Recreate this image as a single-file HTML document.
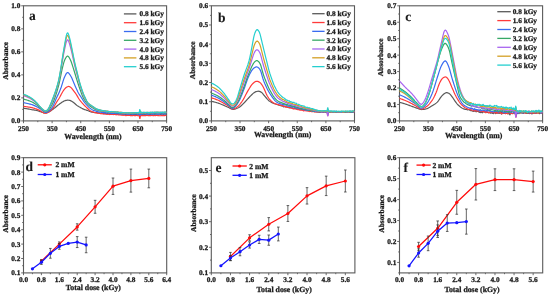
<!DOCTYPE html>
<html><head><meta charset="utf-8"><style>
html,body{margin:0;padding:0;background:#fff;}
svg{display:block;will-change:transform;filter:blur(0.3px);}
text{text-rendering:geometricPrecision;font-family:"Liberation Serif", serif;font-weight:bold;font-size:7.3px;fill:#1a1a1a;stroke:#1a1a1a;stroke-width:0.28px;}
</style></head><body>
<svg width="550" height="297" viewBox="0 0 550 297">
<rect width="550" height="297" fill="#fff"/>
<g>
<rect x="23.50" y="5.80" width="143.10" height="115.10" fill="none" stroke="#5a5a5a" stroke-width="1.1"/>
<path d="M23.50,120.90v2.3M52.12,120.90v2.3M80.74,120.90v2.3M109.36,120.90v2.3M137.98,120.90v2.3M166.60,120.90v2.3M37.81,120.90v1.3M66.43,120.90v1.3M95.05,120.90v1.3M123.67,120.90v1.3M152.29,120.90v1.3M23.50,120.90h-2.3M23.50,97.88h-2.3M23.50,74.86h-2.3M23.50,51.84h-2.3M23.50,28.82h-2.3M23.50,5.80h-2.3M23.50,109.39h-1.3M23.50,86.37h-1.3M23.50,63.35h-1.3M23.50,40.33h-1.3M23.50,17.31h-1.3" stroke="#5a5a5a" stroke-width="0.9" fill="none"/>
<text transform="translate(23.50,130.50)" text-anchor="middle">250</text>
<text transform="translate(52.12,130.50)" text-anchor="middle">350</text>
<text transform="translate(80.74,130.50)" text-anchor="middle">450</text>
<text transform="translate(109.36,130.50)" text-anchor="middle">550</text>
<text transform="translate(137.98,130.50)" text-anchor="middle">650</text>
<text transform="translate(166.60,130.50)" text-anchor="middle">750</text>
<text x="20.30" y="123.30" text-anchor="end">0.0</text>
<text x="20.30" y="100.28" text-anchor="end">0.2</text>
<text x="20.30" y="77.26" text-anchor="end">0.4</text>
<text x="20.30" y="54.24" text-anchor="end">0.6</text>
<text x="20.30" y="31.22" text-anchor="end">0.8</text>
<text x="20.30" y="8.20" text-anchor="end">1.0</text>
<text x="64.30" y="138.80" style="font-size:7.8px">Wavelength (nm)</text>
<text transform="translate(8.30,60.80) rotate(-90)" text-anchor="middle" style="font-size:7.4px">Absorbance</text>
<text x="29.00" y="19.70" style="font-size:13.5px;stroke-width:0.1px">a</text>
<rect x="211.40" y="5.80" width="143.10" height="115.10" fill="none" stroke="#5a5a5a" stroke-width="1.1"/>
<path d="M211.40,120.90v2.3M240.02,120.90v2.3M268.64,120.90v2.3M297.26,120.90v2.3M325.88,120.90v2.3M354.50,120.90v2.3M225.71,120.90v1.3M254.33,120.90v1.3M282.95,120.90v1.3M311.57,120.90v1.3M340.19,120.90v1.3M211.40,120.90h-2.3M211.40,101.72h-2.3M211.40,82.53h-2.3M211.40,63.35h-2.3M211.40,44.17h-2.3M211.40,24.98h-2.3M211.40,5.80h-2.3M211.40,111.31h-1.3M211.40,92.12h-1.3M211.40,72.94h-1.3M211.40,53.76h-1.3M211.40,34.58h-1.3M211.40,15.39h-1.3" stroke="#5a5a5a" stroke-width="0.9" fill="none"/>
<text transform="translate(211.40,130.50)" text-anchor="middle">250</text>
<text transform="translate(240.02,130.50)" text-anchor="middle">350</text>
<text transform="translate(268.64,130.50)" text-anchor="middle">450</text>
<text transform="translate(297.26,130.50)" text-anchor="middle">550</text>
<text transform="translate(325.88,130.50)" text-anchor="middle">650</text>
<text transform="translate(354.50,130.50)" text-anchor="middle">750</text>
<text x="208.20" y="123.30" text-anchor="end">0.0</text>
<text x="208.20" y="104.12" text-anchor="end">0.1</text>
<text x="208.20" y="84.93" text-anchor="end">0.2</text>
<text x="208.20" y="65.75" text-anchor="end">0.3</text>
<text x="208.20" y="46.57" text-anchor="end">0.4</text>
<text x="208.20" y="27.38" text-anchor="end">0.5</text>
<text x="208.20" y="8.20" text-anchor="end">0.6</text>
<text x="254.00" y="137.10" style="font-size:7.8px">Wavelength (nm)</text>
<text transform="translate(195.20,60.30) rotate(-90)" text-anchor="middle" style="font-size:7.4px">Absorbance</text>
<text x="218.00" y="21.50" style="font-size:13.5px;stroke-width:0.1px">b</text>
<rect x="399.50" y="5.80" width="143.10" height="115.10" fill="none" stroke="#5a5a5a" stroke-width="1.1"/>
<path d="M399.50,120.90v2.3M428.12,120.90v2.3M456.74,120.90v2.3M485.36,120.90v2.3M513.98,120.90v2.3M542.60,120.90v2.3M413.81,120.90v1.3M442.43,120.90v1.3M471.05,120.90v1.3M499.67,120.90v1.3M528.29,120.90v1.3M399.50,120.90h-2.3M399.50,104.46h-2.3M399.50,88.01h-2.3M399.50,71.57h-2.3M399.50,55.13h-2.3M399.50,38.69h-2.3M399.50,22.24h-2.3M399.50,5.80h-2.3M399.50,112.68h-1.3M399.50,96.24h-1.3M399.50,79.79h-1.3M399.50,63.35h-1.3M399.50,46.91h-1.3M399.50,30.46h-1.3M399.50,14.02h-1.3" stroke="#5a5a5a" stroke-width="0.9" fill="none"/>
<text transform="translate(399.50,130.50)" text-anchor="middle">250</text>
<text transform="translate(428.12,130.50)" text-anchor="middle">350</text>
<text transform="translate(456.74,130.50)" text-anchor="middle">450</text>
<text transform="translate(485.36,130.50)" text-anchor="middle">550</text>
<text transform="translate(513.98,130.50)" text-anchor="middle">650</text>
<text transform="translate(542.60,130.50)" text-anchor="middle">750</text>
<text x="396.30" y="123.30" text-anchor="end">0.0</text>
<text x="396.30" y="106.86" text-anchor="end">0.1</text>
<text x="396.30" y="90.41" text-anchor="end">0.2</text>
<text x="396.30" y="73.97" text-anchor="end">0.3</text>
<text x="396.30" y="57.53" text-anchor="end">0.4</text>
<text x="396.30" y="41.09" text-anchor="end">0.5</text>
<text x="396.30" y="24.64" text-anchor="end">0.6</text>
<text x="396.30" y="8.20" text-anchor="end">0.7</text>
<text x="445.00" y="138.10" style="font-size:7.8px">Wavelength (nm)</text>
<text transform="translate(383.40,57.40) rotate(-90)" text-anchor="middle" style="font-size:7.4px">Absorbance</text>
<text x="405.30" y="20.90" style="font-size:13.5px;stroke-width:0.1px">c</text>
<rect x="23.50" y="157.70" width="143.20" height="115.20" fill="none" stroke="#5a5a5a" stroke-width="1.1"/>
<path d="M23.50,272.90v2.3M41.40,272.90v2.3M59.30,272.90v2.3M77.20,272.90v2.3M95.10,272.90v2.3M113.00,272.90v2.3M130.90,272.90v2.3M148.80,272.90v2.3M166.70,272.90v2.3M32.45,272.90v1.3M50.35,272.90v1.3M68.25,272.90v1.3M86.15,272.90v1.3M104.05,272.90v1.3M121.95,272.90v1.3M139.85,272.90v1.3M157.75,272.90v1.3M23.50,272.90h-2.3M23.50,258.50h-2.3M23.50,244.10h-2.3M23.50,229.70h-2.3M23.50,215.30h-2.3M23.50,200.90h-2.3M23.50,186.50h-2.3M23.50,172.10h-2.3M23.50,157.70h-2.3M23.50,265.70h-1.3M23.50,251.30h-1.3M23.50,236.90h-1.3M23.50,222.50h-1.3M23.50,208.10h-1.3M23.50,193.70h-1.3M23.50,179.30h-1.3M23.50,164.90h-1.3" stroke="#5a5a5a" stroke-width="0.9" fill="none"/>
<text transform="translate(23.50,282.10)" text-anchor="middle">0.0</text>
<text transform="translate(41.40,282.10)" text-anchor="middle">0.8</text>
<text transform="translate(59.30,282.10)" text-anchor="middle">1.6</text>
<text transform="translate(77.20,282.10)" text-anchor="middle">2.4</text>
<text transform="translate(95.10,282.10)" text-anchor="middle">3.2</text>
<text transform="translate(113.00,282.10)" text-anchor="middle">4.0</text>
<text transform="translate(130.90,282.10)" text-anchor="middle">4.8</text>
<text transform="translate(148.80,282.10)" text-anchor="middle">5.6</text>
<text transform="translate(166.70,282.10)" text-anchor="middle">6.4</text>
<text x="20.30" y="275.30" text-anchor="end">0.1</text>
<text x="20.30" y="260.90" text-anchor="end">0.2</text>
<text x="20.30" y="246.50" text-anchor="end">0.3</text>
<text x="20.30" y="232.10" text-anchor="end">0.4</text>
<text x="20.30" y="217.70" text-anchor="end">0.5</text>
<text x="20.30" y="203.30" text-anchor="end">0.6</text>
<text x="20.30" y="188.90" text-anchor="end">0.7</text>
<text x="20.30" y="174.50" text-anchor="end">0.8</text>
<text x="20.30" y="160.10" text-anchor="end">0.9</text>
<text x="65.80" y="290.40" style="font-size:7.8px">Total dose (kGy)</text>
<text transform="translate(8.10,213.80) rotate(-90)" text-anchor="middle" style="font-size:7.4px">Absorbance</text>
<text x="25.50" y="171.40" style="font-size:13.5px;stroke-width:0.1px">d</text>
<rect x="211.30" y="157.70" width="143.60" height="115.20" fill="none" stroke="#5a5a5a" stroke-width="1.1"/>
<path d="M211.30,272.90v2.3M230.45,272.90v2.3M249.59,272.90v2.3M268.74,272.90v2.3M287.89,272.90v2.3M307.03,272.90v2.3M326.18,272.90v2.3M345.33,272.90v2.3M220.87,272.90v1.3M240.02,272.90v1.3M259.17,272.90v1.3M278.31,272.90v1.3M297.46,272.90v1.3M316.61,272.90v1.3M335.75,272.90v1.3M211.30,272.90h-2.3M211.30,247.30h-2.3M211.30,221.70h-2.3M211.30,196.10h-2.3M211.30,170.50h-2.3M211.30,260.10h-1.3M211.30,234.50h-1.3M211.30,208.90h-1.3M211.30,183.30h-1.3" stroke="#5a5a5a" stroke-width="0.9" fill="none"/>
<text transform="translate(211.30,282.10)" text-anchor="middle">0.0</text>
<text transform="translate(230.45,282.10)" text-anchor="middle">0.8</text>
<text transform="translate(249.59,282.10)" text-anchor="middle">1.6</text>
<text transform="translate(268.74,282.10)" text-anchor="middle">2.4</text>
<text transform="translate(287.89,282.10)" text-anchor="middle">3.2</text>
<text transform="translate(307.03,282.10)" text-anchor="middle">4.0</text>
<text transform="translate(326.18,282.10)" text-anchor="middle">4.8</text>
<text transform="translate(345.33,282.10)" text-anchor="middle">5.6</text>
<text x="208.10" y="275.30" text-anchor="end">0.1</text>
<text x="208.10" y="249.70" text-anchor="end">0.2</text>
<text x="208.10" y="224.10" text-anchor="end">0.3</text>
<text x="208.10" y="198.50" text-anchor="end">0.4</text>
<text x="208.10" y="172.90" text-anchor="end">0.5</text>
<text x="256.60" y="292.30" style="font-size:7.8px">Total dose (kGy)</text>
<text transform="translate(195.70,213.00) rotate(-90)" text-anchor="middle" style="font-size:7.4px">Absorbance</text>
<text x="215.50" y="171.60" style="font-size:13.5px;stroke-width:0.1px">e</text>
<rect x="399.50" y="157.70" width="143.20" height="115.20" fill="none" stroke="#5a5a5a" stroke-width="1.1"/>
<path d="M399.50,272.90v2.3M418.59,272.90v2.3M437.69,272.90v2.3M456.78,272.90v2.3M475.87,272.90v2.3M494.97,272.90v2.3M514.06,272.90v2.3M533.15,272.90v2.3M409.05,272.90v1.3M428.14,272.90v1.3M447.23,272.90v1.3M466.33,272.90v1.3M485.42,272.90v1.3M504.51,272.90v1.3M523.61,272.90v1.3M399.50,262.43h-2.3M399.50,241.48h-2.3M399.50,220.54h-2.3M399.50,199.59h-2.3M399.50,178.65h-2.3M399.50,157.70h-2.3M399.50,272.90h-1.3M399.50,251.95h-1.3M399.50,231.01h-1.3M399.50,210.06h-1.3M399.50,189.12h-1.3M399.50,168.17h-1.3" stroke="#5a5a5a" stroke-width="0.9" fill="none"/>
<text transform="translate(399.50,282.10)" text-anchor="middle">0.0</text>
<text transform="translate(418.59,282.10)" text-anchor="middle">0.8</text>
<text transform="translate(437.69,282.10)" text-anchor="middle">1.6</text>
<text transform="translate(456.78,282.10)" text-anchor="middle">2.4</text>
<text transform="translate(475.87,282.10)" text-anchor="middle">3.2</text>
<text transform="translate(494.97,282.10)" text-anchor="middle">4.0</text>
<text transform="translate(514.06,282.10)" text-anchor="middle">4.8</text>
<text transform="translate(533.15,282.10)" text-anchor="middle">5.6</text>
<text x="396.30" y="264.83" text-anchor="end">0.1</text>
<text x="396.30" y="243.88" text-anchor="end">0.2</text>
<text x="396.30" y="222.94" text-anchor="end">0.3</text>
<text x="396.30" y="201.99" text-anchor="end">0.4</text>
<text x="396.30" y="181.05" text-anchor="end">0.5</text>
<text x="396.30" y="160.10" text-anchor="end">0.6</text>
<text x="444.40" y="291.70" style="font-size:7.8px">Total dose (kGy)</text>
<text transform="translate(383.70,213.80) rotate(-90)" text-anchor="middle" style="font-size:7.4px">Absorbance</text>
<text x="403.50" y="171.50" style="font-size:13.5px;stroke-width:0.1px">f</text>
</g>
<path d="M23.50,108.27 24.07,108.32 24.64,108.39 25.22,108.47 25.79,108.56 26.36,108.65 26.93,108.74 27.51,108.83 28.08,108.93 28.65,109.04 29.22,109.15 29.80,109.27 30.37,109.40 30.94,109.51 31.51,109.63 32.09,109.73 32.66,109.82 33.23,109.90 33.80,109.97 34.38,110.05 34.95,110.13 35.52,110.22 36.09,110.32 36.67,110.45 37.24,110.60 37.81,110.78 38.38,110.97 38.95,111.17 39.53,111.37 40.10,111.58 40.67,111.78 41.24,111.97 41.82,112.16 42.39,112.34 42.96,112.54 43.53,112.72 44.11,112.88 44.68,112.99 45.25,113.03 45.82,112.99 46.40,112.87 46.97,112.70 47.54,112.48 48.11,112.22 48.69,111.96 49.26,111.68 49.83,111.39 50.40,111.06 50.98,110.69 51.55,110.29 52.12,109.87 52.69,109.44 53.26,109.00 53.84,108.56 54.41,108.12 54.98,107.68 55.55,107.22 56.13,106.75 56.70,106.28 57.27,105.80 57.84,105.33 58.42,104.87 58.99,104.43 59.56,104.00 60.13,103.58 60.71,103.16 61.28,102.75 61.85,102.36 62.42,101.99 63.00,101.65 63.57,101.34 64.14,101.06 64.71,100.80 65.29,100.59 65.86,100.44 66.43,100.34 67.00,100.26 67.57,100.22 68.15,100.21 68.72,100.24 69.29,100.32 69.86,100.44 70.44,100.61 71.01,100.86 71.58,101.16 72.15,101.51 72.73,101.89 73.30,102.29 73.87,102.73 74.44,103.20 75.02,103.72 75.59,104.25 76.16,104.76 76.73,105.22 77.31,105.63 77.88,106.01 78.45,106.36 79.02,106.70 79.60,107.02 80.17,107.35 80.74,107.66 81.31,107.98 81.88,108.30 82.46,108.60 83.03,108.89 83.60,109.14 84.17,109.38 84.75,109.58 85.32,109.78 85.89,109.97 86.46,110.15 87.04,110.34 87.61,110.53 88.18,110.78 88.75,111.05 89.33,111.32 89.90,111.52 90.47,111.78 91.04,111.98 91.62,112.03 92.19,112.15 92.76,112.22 93.33,112.43 93.91,112.44 94.48,112.53 95.05,112.75 95.62,112.61 96.19,112.70 96.77,112.51 97.34,112.85 97.91,112.97 98.48,112.85 99.06,113.06 99.63,113.03 100.20,113.27 100.77,113.25 101.35,113.20 101.92,113.30 102.49,113.43 103.06,113.64 103.64,113.47 104.21,113.56 104.78,113.50 105.35,113.60 105.93,113.52 106.50,113.70 107.07,113.70 107.64,113.66 108.22,113.93 108.79,113.86 109.36,113.90 109.93,113.58 110.50,113.89 111.08,113.80 111.65,113.83 112.22,113.97 112.79,114.16 113.37,113.83 113.94,114.04 114.51,113.89 115.08,114.19 115.66,114.08 116.23,113.86 116.80,113.85 117.37,114.24 117.95,114.25 118.52,114.09 119.09,113.99 119.66,114.08 120.24,114.07 120.81,114.26 121.38,114.06 121.95,113.99 122.53,114.22 123.10,114.36 123.67,114.28 124.24,114.08 124.81,114.43 125.39,114.21 125.96,114.34 126.53,114.23 127.10,114.25 127.68,114.21 128.25,114.01 128.82,114.16 129.39,114.04 129.97,114.24 130.54,114.29 131.11,114.17 131.68,114.62 132.26,114.23 132.83,114.20 133.40,114.39 133.97,114.16 134.55,114.30 135.12,114.56 135.69,114.25 136.26,114.36 136.84,114.30 137.41,114.25 137.69,114.05 137.98,114.21 138.27,114.23 138.55,114.17 138.84,114.48 139.12,114.09 139.41,114.74 139.70,115.35 139.98,115.57 140.27,114.72 140.56,114.31 140.84,113.96 141.13,114.13 141.41,114.31 141.70,114.26 141.99,114.38 142.27,114.23 142.85,114.30 143.42,114.12 143.99,114.41 144.56,114.27 145.13,114.34 145.71,114.32 146.28,114.13 146.85,114.21 147.42,114.14 148.00,114.06 148.57,114.07 149.14,114.41 149.71,114.15 150.29,114.47 150.86,114.23 151.43,113.96 152.00,114.25 152.58,114.28 153.15,114.20 153.72,114.22 154.29,114.22 154.87,114.33 155.44,114.07 156.01,114.10 156.58,114.25 157.16,114.18 157.73,114.13 158.30,114.08 158.87,114.17 159.44,114.13 160.02,114.26 160.59,114.37 161.16,114.29 161.73,114.08 162.31,114.09 162.88,114.20 163.45,114.30 164.02,114.18 164.60,113.99 165.17,114.04 165.74,114.32 166.31,114.23" stroke="#5a5a5a" stroke-width="1.2" fill="none" stroke-linejoin="round"/>
<path d="M23.50,106.42 24.07,106.46 24.64,106.52 25.22,106.59 25.79,106.66 26.36,106.74 26.93,106.81 27.51,106.89 28.08,106.97 28.65,107.06 29.22,107.14 29.80,107.24 30.37,107.33 30.94,107.43 31.51,107.55 32.09,107.67 32.66,107.81 33.23,107.97 33.80,108.14 34.38,108.33 34.95,108.52 35.52,108.72 36.09,108.93 36.67,109.15 37.24,109.37 37.81,109.60 38.38,109.84 38.95,110.10 39.53,110.38 40.10,110.68 40.67,111.03 41.24,111.42 41.82,111.83 42.39,112.21 42.96,112.56 43.53,112.84 44.11,113.07 44.68,113.21 45.25,113.25 45.82,113.19 46.40,113.07 46.97,112.90 47.54,112.70 48.11,112.45 48.69,112.13 49.26,111.73 49.83,111.27 50.40,110.78 50.98,110.27 51.55,109.71 52.12,109.11 52.69,108.44 53.26,107.70 53.84,106.87 54.41,105.96 54.98,104.99 55.55,104.00 56.13,103.01 56.70,102.05 57.27,101.14 57.84,100.28 58.42,99.43 58.99,98.52 59.56,97.54 60.13,96.49 60.71,95.40 61.28,94.30 61.85,93.23 62.42,92.21 63.00,91.28 63.57,90.43 64.14,89.66 64.71,88.95 65.29,88.31 65.86,87.77 66.43,87.33 67.00,86.99 67.57,86.71 68.15,86.52 68.72,86.46 69.29,86.55 69.86,86.79 70.44,87.14 71.01,87.58 71.58,88.12 72.15,88.79 72.73,89.55 73.30,90.34 73.87,91.12 74.44,91.88 75.02,92.66 75.59,93.45 76.16,94.28 76.73,95.16 77.31,96.10 77.88,97.10 78.45,98.07 79.02,98.98 79.60,99.81 80.17,100.57 80.74,101.30 81.31,101.99 81.88,102.66 82.46,103.30 83.03,103.93 83.60,104.55 84.17,105.16 84.75,105.75 85.32,106.32 85.89,106.88 86.46,107.42 87.04,107.96 87.61,108.49 88.18,108.99 88.75,109.51 89.33,109.98 89.90,110.42 90.47,110.83 91.04,111.13 91.62,111.51 92.19,111.79 92.76,111.89 93.33,111.91 93.91,112.28 94.48,112.60 95.05,112.61 95.62,112.62 96.19,113.02 96.77,112.92 97.34,113.20 97.91,113.04 98.48,113.19 99.06,113.34 99.63,113.18 100.20,113.59 100.77,113.69 101.35,113.40 101.92,113.84 102.49,113.47 103.06,113.83 103.64,114.02 104.21,113.93 104.78,113.95 105.35,113.99 105.93,114.08 106.50,113.95 107.07,114.45 107.64,114.25 108.22,114.24 108.79,113.99 109.36,114.55 109.93,114.35 110.50,114.50 111.08,114.46 111.65,114.31 112.22,114.38 112.79,114.27 113.37,114.58 113.94,114.50 114.51,114.41 115.08,114.48 115.66,114.69 116.23,114.53 116.80,114.85 117.37,114.51 117.95,114.78 118.52,114.86 119.09,114.85 119.66,114.81 120.24,114.73 120.81,115.03 121.38,115.10 121.95,115.01 122.53,115.25 123.10,115.40 123.67,115.09 124.24,115.29 124.81,115.12 125.39,115.45 125.96,115.74 126.53,115.33 127.10,115.37 127.68,115.20 128.25,115.37 128.82,115.42 129.39,115.39 129.97,115.54 130.54,115.49 131.11,115.70 131.68,115.45 132.26,115.65 132.83,115.61 133.40,115.46 133.97,115.44 134.55,115.71 135.12,115.30 135.69,115.67 136.26,115.48 136.84,115.47 137.41,115.57 137.69,115.58 137.98,115.36 138.27,115.48 138.55,115.54 138.84,115.86 139.12,115.79 139.41,116.30 139.70,118.36 139.98,118.52 140.27,116.55 140.56,115.73 140.84,115.51 141.13,115.55 141.41,115.47 141.70,115.72 141.99,115.47 142.27,115.67 142.85,115.65 143.42,115.37 143.99,115.60 144.56,115.62 145.13,115.63 145.71,115.66 146.28,115.39 146.85,115.42 147.42,115.51 148.00,115.58 148.57,115.46 149.14,115.62 149.71,115.54 150.29,115.55 150.86,115.59 151.43,115.38 152.00,115.36 152.58,115.42 153.15,115.87 153.72,115.35 154.29,115.51 154.87,115.67 155.44,115.61 156.01,115.45 156.58,115.44 157.16,115.49 157.73,115.59 158.30,115.60 158.87,115.49 159.44,115.62 160.02,115.73 160.59,115.69 161.16,115.62 161.73,115.56 162.31,115.29 162.88,115.79 163.45,115.54 164.02,115.62 164.60,115.56 165.17,115.42 165.74,115.43 166.31,115.63" stroke="#ff3a3a" stroke-width="1.2" fill="none" stroke-linejoin="round"/>
<path d="M23.50,102.65 24.07,102.73 24.64,102.85 25.22,102.97 25.79,103.10 26.36,103.23 26.93,103.36 27.51,103.50 28.08,103.63 28.65,103.77 29.22,103.91 29.80,104.04 30.37,104.19 30.94,104.34 31.51,104.50 32.09,104.68 32.66,104.88 33.23,105.10 33.80,105.33 34.38,105.58 34.95,105.85 35.52,106.12 36.09,106.40 36.67,106.69 37.24,107.00 37.81,107.31 38.38,107.64 38.95,107.98 39.53,108.34 40.10,108.71 40.67,109.11 41.24,109.54 41.82,109.99 42.39,110.44 42.96,110.88 43.53,111.30 44.11,111.69 44.68,112.06 45.25,112.36 45.82,112.50 46.40,112.46 46.97,112.27 47.54,111.98 48.11,111.61 48.69,111.19 49.26,110.74 49.83,110.24 50.40,109.65 50.98,108.97 51.55,108.21 52.12,107.37 52.69,106.44 53.26,105.39 53.84,104.19 54.41,102.87 54.98,101.49 55.55,100.13 56.13,98.81 56.70,97.55 57.27,96.33 57.84,95.12 58.42,93.91 58.99,92.67 59.56,91.39 60.13,90.04 60.71,88.58 61.28,86.97 61.85,85.18 62.42,83.30 63.00,81.41 63.57,79.63 64.14,78.04 64.71,76.66 65.29,75.45 65.86,74.36 66.43,73.44 67.00,72.80 67.57,72.54 68.15,72.68 68.72,73.14 69.29,73.81 69.86,74.61 70.44,75.48 71.01,76.45 71.58,77.56 72.15,78.80 72.73,80.15 73.30,81.55 73.87,82.96 74.44,84.33 75.02,85.66 75.59,86.96 76.16,88.24 76.73,89.51 77.31,90.75 77.88,91.91 78.45,93.00 79.02,93.99 79.60,94.91 80.17,95.79 80.74,96.63 81.31,97.48 81.88,98.34 82.46,99.24 83.03,100.17 83.60,101.05 84.17,101.87 84.75,102.64 85.32,103.36 85.89,104.04 86.46,104.70 87.04,105.33 87.61,105.95 88.18,106.53 88.75,107.07 89.33,107.67 89.90,108.15 90.47,108.60 91.04,108.99 91.62,109.28 92.19,109.66 92.76,110.00 93.33,110.29 93.91,110.35 94.48,110.69 95.05,110.90 95.62,110.96 96.19,111.32 96.77,111.16 97.34,111.44 97.91,111.73 98.48,111.87 99.06,111.76 99.63,112.18 100.20,112.21 100.77,112.22 101.35,112.28 101.92,112.39 102.49,112.42 103.06,112.60 103.64,112.63 104.21,112.50 104.78,112.64 105.35,112.85 105.93,112.60 106.50,113.16 107.07,112.93 107.64,112.89 108.22,112.89 108.79,113.06 109.36,113.17 109.93,113.07 110.50,113.22 111.08,113.16 111.65,113.66 112.22,113.24 112.79,113.44 113.37,113.23 113.94,113.29 114.51,113.32 115.08,113.50 115.66,113.42 116.23,113.55 116.80,113.51 117.37,113.59 117.95,113.72 118.52,113.35 119.09,113.55 119.66,113.97 120.24,113.59 120.81,113.93 121.38,113.80 121.95,113.87 122.53,113.89 123.10,113.81 123.67,113.91 124.24,114.08 124.81,113.90 125.39,113.87 125.96,113.69 126.53,114.01 127.10,114.13 127.68,114.03 128.25,113.89 128.82,114.11 129.39,114.09 129.97,113.92 130.54,114.00 131.11,113.96 131.68,114.08 132.26,114.11 132.83,114.04 133.40,114.02 133.97,114.04 134.55,113.93 135.12,113.92 135.69,113.92 136.26,113.93 136.84,114.12 137.41,114.15 137.69,113.88 137.98,113.99 138.27,113.98 138.55,114.15 138.84,114.02 139.12,114.11 139.41,114.42 139.70,115.07 139.98,115.19 140.27,114.29 140.56,113.86 140.84,114.09 141.13,113.98 141.41,114.14 141.70,113.90 141.99,113.74 142.27,114.16 142.85,114.03 143.42,113.80 143.99,113.94 144.56,113.98 145.13,114.28 145.71,114.01 146.28,113.87 146.85,113.80 147.42,113.91 148.00,114.07 148.57,114.09 149.14,114.25 149.71,114.14 150.29,113.84 150.86,114.01 151.43,114.18 152.00,113.81 152.58,114.22 153.15,113.82 153.72,114.03 154.29,113.94 154.87,113.89 155.44,113.94 156.01,113.80 156.58,113.96 157.16,114.00 157.73,114.04 158.30,114.14 158.87,114.03 159.44,113.79 160.02,113.80 160.59,113.71 161.16,113.51 161.73,113.78 162.31,113.80 162.88,114.03 163.45,113.87 164.02,113.52 164.60,113.74 165.17,113.82 165.74,113.74 166.31,114.04" stroke="#3a6cf0" stroke-width="1.2" fill="none" stroke-linejoin="round"/>
<path d="M23.50,99.20 24.07,99.29 24.64,99.41 25.22,99.56 25.79,99.71 26.36,99.88 26.93,100.05 27.51,100.23 28.08,100.42 28.65,100.61 29.22,100.82 29.80,101.03 30.37,101.26 30.94,101.51 31.51,101.76 32.09,102.03 32.66,102.32 33.23,102.63 33.80,102.96 34.38,103.31 34.95,103.67 35.52,104.05 36.09,104.45 36.67,104.88 37.24,105.32 37.81,105.80 38.38,106.29 38.95,106.78 39.53,107.28 40.10,107.78 40.67,108.29 41.24,108.81 41.82,109.33 42.39,109.84 42.96,110.32 43.53,110.77 44.11,111.19 44.68,111.53 45.25,111.69 45.82,111.68 46.40,111.52 46.97,111.27 47.54,110.94 48.11,110.50 48.69,109.92 49.26,109.20 49.83,108.39 50.40,107.51 50.98,106.58 51.55,105.57 52.12,104.45 52.69,103.25 53.26,101.96 53.84,100.59 54.41,99.12 54.98,97.55 55.55,95.89 56.13,94.14 56.70,92.31 57.27,90.40 57.84,88.39 58.42,86.26 58.99,83.99 59.56,81.53 60.13,78.84 60.71,76.00 61.28,73.16 61.85,70.47 62.42,67.96 63.00,65.62 63.57,63.45 64.14,61.57 64.71,60.04 65.29,58.79 65.86,57.73 66.43,56.87 67.00,56.30 67.57,56.10 68.15,56.31 68.72,56.91 69.29,57.78 69.86,58.82 70.44,59.97 71.01,61.29 71.58,62.82 72.15,64.53 72.73,66.34 73.30,68.18 73.87,70.03 74.44,71.89 75.02,73.79 75.59,75.70 76.16,77.59 76.73,79.44 77.31,81.26 77.88,83.04 78.45,84.80 79.02,86.52 79.60,88.19 80.17,89.81 80.74,91.41 81.31,92.98 81.88,94.51 82.46,95.94 83.03,97.24 83.60,98.38 84.17,99.38 84.75,100.28 85.32,101.10 85.89,101.86 86.46,102.57 87.04,103.23 87.61,103.87 88.18,104.48 88.75,104.97 89.33,105.47 89.90,105.99 90.47,106.42 91.04,106.90 91.62,107.21 92.19,107.56 92.76,107.87 93.33,108.21 93.91,108.63 94.48,109.00 95.05,109.37 95.62,109.61 96.19,109.70 96.77,109.91 97.34,110.15 97.91,110.08 98.48,110.36 99.06,110.57 99.63,110.72 100.20,110.80 100.77,111.05 101.35,111.15 101.92,111.05 102.49,111.27 103.06,111.31 103.64,111.18 104.21,111.45 104.78,111.31 105.35,111.56 105.93,111.42 106.50,111.62 107.07,111.99 107.64,111.64 108.22,111.90 108.79,112.19 109.36,111.96 109.93,112.01 110.50,112.25 111.08,112.21 111.65,112.10 112.22,112.02 112.79,112.10 113.37,112.13 113.94,112.19 114.51,112.73 115.08,112.52 115.66,112.44 116.23,112.87 116.80,112.44 117.37,112.46 117.95,112.73 118.52,112.72 119.09,112.84 119.66,112.75 120.24,112.79 120.81,112.83 121.38,113.00 121.95,112.85 122.53,112.98 123.10,112.84 123.67,112.96 124.24,113.23 124.81,113.26 125.39,113.07 125.96,113.17 126.53,113.06 127.10,113.03 127.68,113.16 128.25,113.40 128.82,113.34 129.39,113.11 129.97,113.33 130.54,113.03 131.11,113.20 131.68,113.11 132.26,113.30 132.83,113.18 133.40,113.57 133.97,113.18 134.55,113.06 135.12,113.26 135.69,113.24 136.26,113.12 136.84,113.09 137.41,113.20 137.69,112.99 137.98,113.31 138.27,112.92 138.55,113.27 138.84,113.18 139.12,112.83 139.41,112.65 139.70,111.50 139.98,111.25 140.27,112.63 140.56,113.15 140.84,113.13 141.13,113.14 141.41,113.16 141.70,113.17 141.99,112.80 142.27,113.11 142.85,112.87 143.42,113.19 143.99,112.91 144.56,113.15 145.13,113.03 145.71,112.87 146.28,113.02 146.85,113.21 147.42,113.00 148.00,112.94 148.57,112.83 149.14,113.03 149.71,112.93 150.29,112.87 150.86,113.09 151.43,112.87 152.00,112.96 152.58,112.78 153.15,112.84 153.72,112.84 154.29,113.14 154.87,112.82 155.44,112.84 156.01,112.91 156.58,112.84 157.16,112.94 157.73,112.73 158.30,112.65 158.87,112.65 159.44,112.80 160.02,112.49 160.59,112.59 161.16,112.83 161.73,112.71 162.31,112.91 162.88,112.69 163.45,112.56 164.02,112.48 164.60,112.70 165.17,112.88 165.74,112.65 166.31,112.43" stroke="#35a865" stroke-width="1.2" fill="none" stroke-linejoin="round"/>
<path d="M23.50,95.83 24.07,95.94 24.64,96.11 25.22,96.30 25.79,96.51 26.36,96.72 26.93,96.95 27.51,97.19 28.08,97.44 28.65,97.70 29.22,97.98 29.80,98.27 30.37,98.58 30.94,98.91 31.51,99.25 32.09,99.62 32.66,100.01 33.23,100.42 33.80,100.87 34.38,101.33 34.95,101.82 35.52,102.32 36.09,102.84 36.67,103.40 37.24,103.98 37.81,104.60 38.38,105.22 38.95,105.85 39.53,106.46 40.10,107.05 40.67,107.62 41.24,108.19 41.82,108.74 42.39,109.27 42.96,109.75 43.53,110.19 44.11,110.60 44.68,110.91 45.25,111.06 45.82,111.03 46.40,110.86 46.97,110.58 47.54,110.15 48.11,109.51 48.69,108.67 49.26,107.69 49.83,106.61 50.40,105.43 50.98,104.16 51.55,102.83 52.12,101.47 52.69,100.09 53.26,98.67 53.84,97.21 54.41,95.69 54.98,94.10 55.55,92.43 56.13,90.68 56.70,88.86 57.27,86.94 57.84,84.88 58.42,82.65 58.99,80.17 59.56,77.40 60.13,74.35 60.71,71.09 61.28,67.68 61.85,64.21 62.42,60.80 63.00,57.53 63.57,54.45 64.14,51.59 64.71,48.85 65.29,46.16 65.86,43.69 66.43,41.68 67.00,40.30 67.57,39.78 68.15,40.24 68.72,41.47 69.29,43.11 69.86,44.96 70.44,47.00 71.01,49.23 71.58,51.65 72.15,54.19 72.73,56.75 73.30,59.31 73.87,61.88 74.44,64.43 75.02,66.85 75.59,69.09 76.16,71.22 76.73,73.37 77.31,75.56 77.88,77.75 78.45,79.89 79.02,81.94 79.60,83.89 80.17,85.78 80.74,87.59 81.31,89.35 81.88,91.02 82.46,92.59 83.03,94.06 83.60,95.42 84.17,96.69 84.75,97.88 85.32,99.01 85.89,100.08 86.46,101.11 87.04,102.03 87.61,102.80 88.18,103.44 88.75,103.96 89.33,104.46 89.90,104.94 90.47,105.31 91.04,105.59 91.62,106.17 92.19,106.67 92.76,106.78 93.33,107.30 93.91,107.77 94.48,108.13 95.05,108.57 95.62,108.64 96.19,108.97 96.77,109.31 97.34,109.50 97.91,109.69 98.48,109.66 99.06,110.00 99.63,109.94 100.20,110.39 100.77,110.49 101.35,110.60 101.92,110.72 102.49,110.77 103.06,110.71 103.64,110.77 104.21,111.17 104.78,110.93 105.35,111.17 105.93,111.03 106.50,111.35 107.07,111.51 107.64,111.34 108.22,111.43 108.79,111.64 109.36,111.63 109.93,111.67 110.50,111.69 111.08,112.02 111.65,112.00 112.22,111.87 112.79,111.89 113.37,112.05 113.94,112.26 114.51,111.87 115.08,112.15 115.66,112.29 116.23,111.97 116.80,112.08 117.37,112.14 117.95,112.21 118.52,112.29 119.09,112.55 119.66,112.46 120.24,112.46 120.81,112.46 121.38,112.52 121.95,112.77 122.53,112.75 123.10,112.75 123.67,112.76 124.24,112.89 124.81,113.05 125.39,113.00 125.96,112.81 126.53,112.88 127.10,112.82 127.68,113.17 128.25,112.98 128.82,112.81 129.39,113.21 129.97,113.09 130.54,113.17 131.11,112.77 131.68,112.93 132.26,113.00 132.83,112.89 133.40,112.91 133.97,112.75 134.55,112.70 135.12,112.72 135.69,112.78 136.26,112.70 136.84,112.68 137.41,112.62 137.69,113.02 137.98,112.72 138.27,112.75 138.55,112.73 138.84,112.78 139.12,112.72 139.41,112.36 139.70,111.71 139.98,111.71 140.27,112.56 140.56,112.86 140.84,112.81 141.13,112.95 141.41,112.77 141.70,112.81 141.99,112.93 142.27,112.95 142.85,112.74 143.42,112.74 143.99,112.35 144.56,112.52 145.13,112.74 145.71,112.69 146.28,112.75 146.85,112.71 147.42,112.64 148.00,112.59 148.57,112.66 149.14,112.45 149.71,112.47 150.29,112.28 150.86,112.72 151.43,112.44 152.00,112.58 152.58,112.74 153.15,112.55 153.72,112.73 154.29,112.50 154.87,112.11 155.44,112.30 156.01,112.22 156.58,112.30 157.16,112.68 157.73,112.40 158.30,112.43 158.87,112.38 159.44,112.58 160.02,112.70 160.59,112.13 161.16,112.25 161.73,112.37 162.31,112.48 162.88,112.38 163.45,112.57 164.02,112.26 164.60,112.36 165.17,112.40 165.74,112.44 166.31,112.38" stroke="#a866f0" stroke-width="1.2" fill="none" stroke-linejoin="round"/>
<path d="M23.50,94.91 24.07,95.04 24.64,95.21 25.22,95.42 25.79,95.64 26.36,95.87 26.93,96.11 27.51,96.36 28.08,96.63 28.65,96.91 29.22,97.20 29.80,97.52 30.37,97.85 30.94,98.20 31.51,98.57 32.09,98.96 32.66,99.38 33.23,99.83 33.80,100.30 34.38,100.80 34.95,101.31 35.52,101.85 36.09,102.41 36.67,103.00 37.24,103.62 37.81,104.27 38.38,104.94 38.95,105.59 39.53,106.23 40.10,106.85 40.67,107.44 41.24,108.02 41.82,108.58 42.39,109.11 42.96,109.59 43.53,110.03 44.11,110.43 44.68,110.74 45.25,110.89 45.82,110.85 46.40,110.68 46.97,110.39 47.54,109.93 48.11,109.24 48.69,108.33 49.26,107.28 49.83,106.13 50.40,104.86 50.98,103.50 51.55,102.09 52.12,100.66 52.69,99.23 53.26,97.78 53.84,96.30 54.41,94.76 54.98,93.16 55.55,91.49 56.13,89.74 56.70,87.92 57.27,86.00 57.84,83.93 58.42,81.67 58.99,79.14 59.56,76.28 60.13,73.13 60.71,69.76 61.28,66.20 61.85,62.52 62.42,58.86 63.00,55.34 63.57,52.01 64.14,48.88 64.71,45.81 65.29,42.73 65.86,39.87 66.43,37.55 67.00,35.96 67.57,35.35 68.15,35.88 68.72,37.28 69.29,39.13 69.86,41.20 70.44,43.47 71.01,45.96 71.58,48.62 72.15,51.38 72.73,54.14 73.30,56.90 73.87,59.67 74.44,62.41 75.02,64.97 75.59,67.29 76.16,69.50 76.73,71.73 77.31,74.02 77.88,76.32 78.45,78.56 79.02,80.70 79.60,82.73 80.17,84.68 80.74,86.56 81.31,88.36 81.88,90.07 82.46,91.68 83.03,93.19 83.60,94.62 84.17,95.96 84.75,97.23 85.32,98.44 85.89,99.60 86.46,100.71 87.04,101.71 87.61,102.54 88.18,103.17 88.75,103.73 89.33,104.20 89.90,104.66 90.47,104.97 91.04,105.36 91.62,105.79 92.19,106.37 92.76,106.68 93.33,106.98 93.91,107.45 94.48,107.70 95.05,108.21 95.62,108.40 96.19,108.72 96.77,109.34 97.34,109.31 97.91,109.48 98.48,109.72 99.06,109.93 99.63,109.76 100.20,110.14 100.77,110.16 101.35,110.59 101.92,110.81 102.49,110.70 103.06,110.68 103.64,110.93 104.21,110.84 104.78,110.89 105.35,111.14 105.93,111.16 106.50,111.33 107.07,111.14 107.64,111.11 108.22,111.35 108.79,111.55 109.36,111.63 109.93,111.63 110.50,111.52 111.08,111.80 111.65,111.54 112.22,111.96 112.79,111.84 113.37,111.70 113.94,111.68 114.51,112.03 115.08,111.91 115.66,111.71 116.23,111.95 116.80,112.46 117.37,112.16 117.95,111.92 118.52,112.45 119.09,112.21 119.66,112.67 120.24,112.21 120.81,112.59 121.38,112.40 121.95,112.43 122.53,112.98 123.10,112.83 123.67,112.62 124.24,112.91 124.81,112.73 125.39,112.89 125.96,112.60 126.53,112.88 127.10,112.96 127.68,112.76 128.25,112.69 128.82,112.89 129.39,112.84 129.97,112.81 130.54,112.95 131.11,113.04 131.68,112.79 132.26,112.90 132.83,113.03 133.40,112.70 133.97,112.74 134.55,112.76 135.12,112.87 135.69,112.78 136.26,112.64 136.84,112.64 137.41,112.81 137.69,112.81 137.98,112.63 138.27,112.65 138.55,112.55 138.84,112.82 139.12,112.48 139.41,111.95 139.70,111.02 139.98,111.13 140.27,112.05 140.56,112.76 140.84,112.68 141.13,112.33 141.41,112.83 141.70,112.76 141.99,112.48 142.27,112.68 142.85,112.66 143.42,112.72 143.99,112.33 144.56,112.63 145.13,112.58 145.71,112.78 146.28,112.41 146.85,112.51 147.42,112.43 148.00,112.27 148.57,112.46 149.14,112.64 149.71,112.61 150.29,112.45 150.86,112.27 151.43,112.61 152.00,112.47 152.58,112.45 153.15,112.33 153.72,112.54 154.29,112.37 154.87,112.30 155.44,112.40 156.01,112.41 156.58,112.30 157.16,112.30 157.73,112.20 158.30,112.52 158.87,112.19 159.44,112.39 160.02,112.51 160.59,112.42 161.16,112.51 161.73,112.37 162.31,112.19 162.88,112.64 163.45,112.49 164.02,112.21 164.60,112.36 165.17,112.20 165.74,112.49 166.31,112.31" stroke="#d4a025" stroke-width="1.2" fill="none" stroke-linejoin="round"/>
<path d="M23.50,94.38 24.07,94.51 24.64,94.69 25.22,94.90 25.79,95.13 26.36,95.37 26.93,95.62 27.51,95.89 28.08,96.16 28.65,96.45 29.22,96.76 29.80,97.08 30.37,97.43 30.94,97.79 31.51,98.18 32.09,98.58 32.66,99.02 33.23,99.48 33.80,99.97 34.38,100.48 34.95,101.02 35.52,101.58 36.09,102.16 36.67,102.76 37.24,103.41 37.81,104.08 38.38,104.77 38.95,105.45 39.53,106.10 40.10,106.73 40.67,107.34 41.24,107.93 41.82,108.49 42.39,109.02 42.96,109.50 43.53,109.94 44.11,110.34 44.68,110.65 45.25,110.79 45.82,110.75 46.40,110.58 46.97,110.28 47.54,109.81 48.11,109.08 48.69,108.13 49.26,107.04 49.83,105.85 50.40,104.53 50.98,103.12 51.55,101.66 52.12,100.19 52.69,98.73 53.26,97.26 53.84,95.77 54.41,94.23 54.98,92.62 55.55,90.94 56.13,89.20 56.70,87.38 57.27,85.45 57.84,83.38 58.42,81.10 58.99,78.54 59.56,75.63 60.13,72.43 60.71,68.99 61.28,65.34 61.85,61.54 62.42,57.74 63.00,54.07 63.57,50.60 64.14,47.31 64.71,44.05 65.29,40.74 65.86,37.67 66.43,35.17 67.00,33.44 67.57,32.78 68.15,33.35 68.72,34.85 69.29,36.82 69.86,39.02 70.44,41.44 71.01,44.06 71.58,46.87 72.15,49.76 72.73,52.64 73.30,55.50 73.87,58.39 74.44,61.24 75.02,63.88 75.59,66.25 76.16,68.49 76.73,70.77 77.31,73.12 77.88,75.48 78.45,77.79 79.02,79.98 79.60,82.05 80.17,84.05 80.74,85.96 81.31,87.79 81.88,89.52 82.46,91.16 83.03,92.69 83.60,94.15 84.17,95.53 84.75,96.85 85.32,98.11 85.89,99.32 86.46,100.48 87.04,101.54 87.61,102.39 88.18,103.02 88.75,103.54 89.33,103.98 89.90,104.46 90.47,104.90 91.04,105.27 91.62,105.78 92.19,105.98 92.76,106.40 93.33,106.98 93.91,107.13 94.48,107.81 95.05,107.97 95.62,108.45 96.19,108.86 96.77,108.86 97.34,109.29 97.91,109.18 98.48,109.66 99.06,109.70 99.63,109.95 100.20,110.02 100.77,110.28 101.35,110.21 101.92,110.37 102.49,110.56 103.06,110.69 103.64,110.50 104.21,110.95 104.78,111.00 105.35,110.91 105.93,111.10 106.50,111.39 107.07,111.25 107.64,111.35 108.22,111.50 108.79,111.40 109.36,111.64 109.93,111.57 110.50,111.75 111.08,111.43 111.65,111.73 112.22,111.68 112.79,111.75 113.37,111.73 113.94,111.90 114.51,111.82 115.08,111.95 115.66,112.35 116.23,112.02 116.80,112.28 117.37,112.02 117.95,112.17 118.52,112.30 119.09,112.64 119.66,112.63 120.24,112.55 120.81,112.48 121.38,112.66 121.95,112.24 122.53,112.49 123.10,112.60 123.67,112.76 124.24,112.71 124.81,112.72 125.39,112.78 125.96,112.76 126.53,112.66 127.10,113.04 127.68,112.78 128.25,112.67 128.82,113.02 129.39,112.87 129.97,112.89 130.54,113.00 131.11,112.70 131.68,112.87 132.26,112.65 132.83,112.74 133.40,112.82 133.97,112.72 134.55,112.79 135.12,112.95 135.69,112.50 136.26,112.63 136.84,112.50 137.41,112.89 137.69,112.49 137.98,112.51 138.27,112.63 138.55,112.91 138.84,112.59 139.12,112.61 139.41,111.71 139.70,109.60 139.98,109.73 140.27,111.68 140.56,112.48 140.84,112.36 141.13,112.57 141.41,112.23 141.70,112.71 141.99,112.56 142.27,112.37 142.85,112.74 143.42,112.43 143.99,112.45 144.56,112.58 145.13,112.52 145.71,112.26 146.28,112.53 146.85,112.42 147.42,112.39 148.00,112.27 148.57,112.72 149.14,112.63 149.71,112.60 150.29,112.45 150.86,112.31 151.43,112.28 152.00,112.43 152.58,112.17 153.15,112.38 153.72,112.27 154.29,112.47 154.87,112.24 155.44,112.45 156.01,112.18 156.58,112.22 157.16,112.07 157.73,112.39 158.30,112.48 158.87,112.20 159.44,112.27 160.02,112.38 160.59,112.49 161.16,112.19 161.73,112.56 162.31,112.35 162.88,112.14 163.45,112.32 164.02,112.22 164.60,112.21 165.17,112.19 165.74,112.12 166.31,112.18" stroke="#25cfcf" stroke-width="1.2" fill="none" stroke-linejoin="round"/>
<path d="M211.40,101.38 211.97,101.46 212.54,101.58 213.12,101.70 213.69,101.84 214.26,101.99 214.83,102.14 215.41,102.29 215.98,102.46 216.55,102.62 217.12,102.80 217.70,102.97 218.27,103.16 218.84,103.35 219.41,103.55 219.99,103.77 220.56,103.99 221.13,104.22 221.70,104.45 222.28,104.69 222.85,104.93 223.42,105.17 223.99,105.42 224.57,105.68 225.14,105.94 225.71,106.21 226.28,106.48 226.85,106.75 227.43,107.02 228.00,107.28 228.57,107.54 229.14,107.81 229.72,108.09 230.29,108.38 230.86,108.67 231.43,108.93 232.01,109.15 232.58,109.29 233.15,109.35 233.72,109.33 234.30,109.26 234.87,109.14 235.44,108.97 236.01,108.78 236.59,108.56 237.16,108.31 237.73,108.06 238.30,107.79 238.88,107.49 239.45,107.13 240.02,106.72 240.59,106.25 241.16,105.74 241.74,105.20 242.31,104.65 242.88,104.10 243.45,103.54 244.03,102.96 244.60,102.36 245.17,101.74 245.74,101.11 246.32,100.48 246.89,99.85 247.46,99.22 248.03,98.60 248.61,97.98 249.18,97.36 249.75,96.75 250.32,96.15 250.90,95.57 251.47,95.00 252.04,94.45 252.61,93.90 253.19,93.37 253.76,92.89 254.33,92.48 254.90,92.16 255.47,91.89 256.05,91.66 256.62,91.47 257.19,91.32 257.76,91.23 258.34,91.21 258.91,91.28 259.48,91.42 260.05,91.62 260.63,91.87 261.20,92.18 261.77,92.59 262.34,93.14 262.92,93.80 263.49,94.53 264.06,95.27 264.63,95.99 265.21,96.67 265.78,97.33 266.35,98.00 266.92,98.67 267.50,99.31 268.07,99.91 268.64,100.44 269.21,100.92 269.78,101.34 270.36,101.71 270.93,102.05 271.50,102.37 272.07,102.66 272.65,102.92 273.22,103.17 273.79,103.40 274.36,103.62 274.94,103.80 275.51,104.04 276.08,104.20 276.65,104.38 277.23,104.52 277.80,104.81 278.37,104.92 278.94,105.12 279.52,105.31 280.09,105.46 280.66,105.59 281.23,105.72 281.81,105.95 282.38,105.93 282.95,106.21 283.52,106.76 284.09,106.21 284.67,106.60 285.24,106.80 285.81,106.74 286.38,106.87 286.96,107.02 287.53,107.31 288.10,107.22 288.67,107.66 289.25,107.19 289.82,107.81 290.39,107.71 290.96,107.77 291.54,107.83 292.11,108.01 292.68,107.96 293.25,108.85 293.83,108.29 294.40,108.39 294.97,108.53 295.54,108.24 296.12,108.80 296.69,108.72 297.26,109.18 297.83,108.82 298.40,109.27 298.98,109.34 299.55,108.67 300.12,109.07 300.69,109.29 301.27,109.34 301.84,109.74 302.41,109.75 302.98,109.55 303.56,110.14 304.13,109.77 304.70,110.25 305.27,109.99 305.85,110.33 306.42,109.87 306.99,110.11 307.56,110.51 308.14,110.87 308.71,110.76 309.28,110.71 309.85,110.99 310.43,110.84 311.00,110.79 311.57,111.08 312.14,111.24 312.71,111.09 313.29,111.38 313.86,111.24 314.43,111.54 315.00,111.23 315.58,111.66 316.15,111.87 316.72,111.70 317.29,111.89 317.87,111.99 318.44,111.87 319.01,111.72 319.58,112.31 320.16,111.92 320.73,111.95 321.30,111.96 321.87,111.78 322.45,112.20 323.02,111.83 323.59,112.01 324.16,111.95 324.74,112.03 325.31,112.05 325.59,112.10 325.88,111.92 326.17,111.59 326.45,111.80 326.74,111.84 327.02,111.95 327.31,112.61 327.60,113.55 327.88,113.27 328.17,112.78 328.46,111.91 328.74,111.83 329.03,111.98 329.31,111.88 329.60,111.77 329.89,111.61 330.17,111.79 330.75,111.72 331.32,111.99 331.89,111.89 332.46,112.03 333.03,112.01 333.61,112.16 334.18,111.94 334.75,111.79 335.32,112.11 335.90,112.03 336.47,111.96 337.04,112.08 337.61,111.90 338.19,112.03 338.76,112.31 339.33,112.28 339.90,111.94 340.48,111.96 341.05,111.87 341.62,112.03 342.19,112.04 342.77,112.38 343.34,111.80 343.91,112.25 344.48,111.86 345.06,112.28 345.63,112.18 346.20,112.01 346.77,112.12 347.35,112.16 347.92,111.84 348.49,111.88 349.06,111.92 349.63,112.05 350.21,112.14 350.78,112.06 351.35,112.06 351.92,111.95 352.50,111.78 353.07,111.95 353.64,112.06 354.21,112.02" stroke="#5a5a5a" stroke-width="1.2" fill="none" stroke-linejoin="round"/>
<path d="M211.40,97.94 211.97,98.05 212.54,98.20 213.12,98.37 213.69,98.55 214.26,98.74 214.83,98.94 215.41,99.15 215.98,99.37 216.55,99.60 217.12,99.83 217.70,100.07 218.27,100.31 218.84,100.58 219.41,100.86 219.99,101.15 220.56,101.45 221.13,101.77 221.70,102.09 222.28,102.41 222.85,102.74 223.42,103.06 223.99,103.39 224.57,103.71 225.14,104.05 225.71,104.39 226.28,104.73 226.85,105.08 227.43,105.43 228.00,105.78 228.57,106.15 229.14,106.55 229.72,107.00 230.29,107.48 230.86,107.96 231.43,108.38 232.01,108.71 232.58,108.89 233.15,108.93 233.72,108.85 234.30,108.66 234.87,108.41 235.44,108.09 236.01,107.73 236.59,107.34 237.16,106.92 237.73,106.49 238.30,106.01 238.88,105.46 239.45,104.83 240.02,104.14 240.59,103.40 241.16,102.62 241.74,101.81 242.31,100.97 242.88,100.09 243.45,99.15 244.03,98.14 244.60,97.07 245.17,95.96 245.74,94.84 246.32,93.72 246.89,92.64 247.46,91.59 248.03,90.60 248.61,89.64 249.18,88.69 249.75,87.74 250.32,86.82 250.90,85.95 251.47,85.14 252.04,84.43 252.61,83.80 253.19,83.26 253.76,82.76 254.33,82.30 254.90,81.89 255.47,81.56 256.05,81.34 256.62,81.26 257.19,81.29 257.76,81.42 258.34,81.62 258.91,81.88 259.48,82.20 260.05,82.62 260.63,83.18 261.20,83.87 261.77,84.65 262.34,85.50 262.92,86.43 263.49,87.47 264.06,88.66 264.63,89.97 265.21,91.34 265.78,92.72 266.35,94.04 266.92,95.23 267.50,96.28 268.07,97.19 268.64,98.02 269.21,98.80 269.78,99.52 270.36,100.18 270.93,100.77 271.50,101.31 272.07,101.80 272.65,102.25 273.22,102.66 273.79,103.03 274.36,103.34 274.94,103.60 275.51,103.83 276.08,104.02 276.65,104.18 277.23,104.31 277.80,104.48 278.37,104.56 278.94,104.73 279.52,105.20 280.09,105.13 280.66,104.97 281.23,105.59 281.81,105.59 282.38,105.63 282.95,105.94 283.52,105.89 284.09,106.47 284.67,106.63 285.24,106.61 285.81,106.87 286.38,107.08 286.96,106.91 287.53,107.11 288.10,107.30 288.67,107.52 289.25,107.53 289.82,107.74 290.39,108.00 290.96,107.90 291.54,108.07 292.11,108.26 292.68,108.28 293.25,108.76 293.83,108.70 294.40,108.91 294.97,108.68 295.54,108.96 296.12,108.77 296.69,109.00 297.26,109.49 297.83,109.74 298.40,109.54 298.98,109.80 299.55,109.87 300.12,110.14 300.69,109.91 301.27,110.08 301.84,110.12 302.41,110.22 302.98,110.54 303.56,110.87 304.13,110.58 304.70,110.73 305.27,110.79 305.85,110.59 306.42,110.88 306.99,110.65 307.56,110.98 308.14,110.96 308.71,111.08 309.28,111.09 309.85,111.56 310.43,111.18 311.00,111.44 311.57,111.71 312.14,111.47 312.71,111.59 313.29,111.46 313.86,111.62 314.43,111.74 315.00,112.17 315.58,111.58 316.15,111.66 316.72,111.83 317.29,111.92 317.87,111.79 318.44,112.21 319.01,111.93 319.58,112.07 320.16,112.27 320.73,112.00 321.30,112.01 321.87,111.75 322.45,111.89 323.02,112.38 323.59,112.45 324.16,112.09 324.74,112.12 325.31,112.26 325.59,112.36 325.88,112.11 326.17,112.30 326.45,112.21 326.74,111.91 327.02,112.12 327.31,113.23 327.60,115.60 327.88,115.42 328.17,112.76 328.46,112.27 328.74,111.75 329.03,112.23 329.31,112.12 329.60,111.94 329.89,112.22 330.17,112.07 330.75,112.34 331.32,111.95 331.89,111.85 332.46,112.20 333.03,112.04 333.61,112.15 334.18,112.49 334.75,111.55 335.32,111.96 335.90,111.92 336.47,112.00 337.04,112.04 337.61,111.62 338.19,112.43 338.76,112.14 339.33,112.16 339.90,112.12 340.48,111.94 341.05,112.21 341.62,112.33 342.19,112.29 342.77,111.99 343.34,111.89 343.91,111.92 344.48,111.77 345.06,112.18 345.63,111.89 346.20,111.94 346.77,112.11 347.35,112.22 347.92,111.91 348.49,112.21 349.06,112.13 349.63,112.26 350.21,111.74 350.78,112.09 351.35,112.17 351.92,112.12 352.50,112.12 353.07,112.06 353.64,112.40 354.21,112.30" stroke="#ff3a3a" stroke-width="1.2" fill="none" stroke-linejoin="round"/>
<path d="M211.40,95.26 211.97,95.38 212.54,95.56 213.12,95.75 213.69,95.97 214.26,96.19 214.83,96.42 215.41,96.67 215.98,96.92 216.55,97.19 217.12,97.46 217.70,97.74 218.27,98.04 218.84,98.35 219.41,98.68 219.99,99.02 220.56,99.39 221.13,99.76 221.70,100.15 222.28,100.54 222.85,100.93 223.42,101.34 223.99,101.75 224.57,102.17 225.14,102.61 225.71,103.05 226.28,103.51 226.85,103.96 227.43,104.42 228.00,104.88 228.57,105.34 229.14,105.82 229.72,106.35 230.29,106.91 230.86,107.45 231.43,107.90 232.01,108.20 232.58,108.31 233.15,108.20 233.72,107.88 234.30,107.41 234.87,106.84 235.44,106.23 236.01,105.59 236.59,104.88 237.16,104.08 237.73,103.20 238.30,102.26 238.88,101.25 239.45,100.16 240.02,98.99 240.59,97.72 241.16,96.37 241.74,94.96 242.31,93.51 242.88,92.05 243.45,90.57 244.03,89.05 244.60,87.46 245.17,85.81 245.74,84.14 246.32,82.47 246.89,80.84 247.46,79.28 248.03,77.83 248.61,76.49 249.18,75.26 249.75,74.09 250.32,72.97 250.90,71.92 251.47,70.94 252.04,70.09 252.61,69.36 253.19,68.77 253.76,68.27 254.33,67.83 254.90,67.45 255.47,67.15 256.05,66.95 256.62,66.89 257.19,66.99 257.76,67.25 258.34,67.67 258.91,68.20 259.48,68.85 260.05,69.68 260.63,70.87 261.20,72.50 261.77,74.46 262.34,76.55 262.92,78.54 263.49,80.29 264.06,81.81 264.63,83.21 265.21,84.54 265.78,85.82 266.35,87.05 266.92,88.23 267.50,89.36 268.07,90.44 268.64,91.47 269.21,92.45 269.78,93.39 270.36,94.28 270.93,95.16 271.50,96.03 272.07,96.87 272.65,97.69 273.22,98.48 273.79,99.22 274.36,99.92 274.94,100.56 275.51,101.12 276.08,101.67 276.65,102.07 277.23,102.46 277.80,102.86 278.37,103.01 278.94,103.31 279.52,103.36 280.09,103.65 280.66,103.82 281.23,104.17 281.81,104.15 282.38,104.59 282.95,104.45 283.52,104.42 284.09,104.97 284.67,104.77 285.24,104.80 285.81,105.24 286.38,105.13 286.96,105.47 287.53,105.72 288.10,106.16 288.67,106.13 289.25,106.36 289.82,105.77 290.39,106.32 290.96,106.56 291.54,106.93 292.11,106.49 292.68,107.19 293.25,106.83 293.83,107.06 294.40,107.40 294.97,107.68 295.54,107.70 296.12,108.09 296.69,107.85 297.26,107.78 297.83,108.07 298.40,108.16 298.98,108.62 299.55,108.55 300.12,108.93 300.69,108.93 301.27,108.81 301.84,108.58 302.41,109.15 302.98,109.27 303.56,109.75 304.13,109.46 304.70,109.77 305.27,109.98 305.85,110.11 306.42,109.90 306.99,110.11 307.56,110.01 308.14,110.30 308.71,110.36 309.28,110.18 309.85,110.41 310.43,110.51 311.00,110.47 311.57,110.80 312.14,111.13 312.71,111.18 313.29,111.41 313.86,111.11 314.43,111.33 315.00,111.23 315.58,111.23 316.15,111.60 316.72,111.47 317.29,111.30 317.87,111.57 318.44,111.45 319.01,111.69 319.58,111.86 320.16,111.73 320.73,112.06 321.30,111.58 321.87,111.82 322.45,111.47 323.02,111.98 323.59,111.73 324.16,111.69 324.74,111.81 325.31,111.70 325.59,111.92 325.88,111.99 326.17,112.06 326.45,111.90 326.74,111.95 327.02,111.82 327.31,112.63 327.60,114.41 327.88,114.43 328.17,112.94 328.46,111.96 328.74,111.74 329.03,112.08 329.31,111.87 329.60,111.70 329.89,111.96 330.17,111.80 330.75,111.92 331.32,111.37 331.89,111.58 332.46,111.62 333.03,111.99 333.61,111.74 334.18,111.90 334.75,111.80 335.32,111.98 335.90,111.84 336.47,112.03 337.04,111.82 337.61,111.54 338.19,112.15 338.76,112.14 339.33,111.79 339.90,111.73 340.48,111.96 341.05,111.77 341.62,111.80 342.19,111.77 342.77,111.61 343.34,112.00 343.91,111.74 344.48,111.82 345.06,111.99 345.63,111.75 346.20,112.10 346.77,112.13 347.35,111.62 347.92,112.04 348.49,111.48 349.06,111.60 349.63,111.89 350.21,111.95 350.78,112.21 351.35,111.77 351.92,112.07 352.50,111.43 353.07,112.05 353.64,111.70 354.21,112.23" stroke="#3a6cf0" stroke-width="1.2" fill="none" stroke-linejoin="round"/>
<path d="M211.40,93.22 211.97,93.35 212.54,93.53 213.12,93.74 213.69,93.96 214.26,94.20 214.83,94.46 215.41,94.72 215.98,95.00 216.55,95.28 217.12,95.58 217.70,95.88 218.27,96.20 218.84,96.54 219.41,96.90 219.99,97.28 220.56,97.68 221.13,98.09 221.70,98.52 222.28,98.95 222.85,99.40 223.42,99.85 223.99,100.31 224.57,100.78 225.14,101.28 225.71,101.78 226.28,102.30 226.85,102.82 227.43,103.33 228.00,103.85 228.57,104.37 229.14,104.92 229.72,105.51 230.29,106.12 230.86,106.70 231.43,107.17 232.01,107.47 232.58,107.56 233.15,107.44 233.72,107.14 234.30,106.68 234.87,106.12 235.44,105.46 236.01,104.74 236.59,103.94 237.16,103.03 237.73,102.01 238.30,100.90 238.88,99.73 239.45,98.49 240.02,97.18 240.59,95.81 241.16,94.36 241.74,92.87 242.31,91.34 242.88,89.81 243.45,88.27 244.03,86.70 244.60,85.10 245.17,83.46 245.74,81.81 246.32,80.18 246.89,78.57 247.46,77.01 248.03,75.51 248.61,74.09 249.18,72.71 249.75,71.33 250.32,69.95 250.90,68.59 251.47,67.29 252.04,66.07 252.61,64.94 253.19,63.91 253.76,63.01 254.33,62.25 254.90,61.63 255.47,61.14 256.05,60.79 256.62,60.62 257.19,60.67 257.76,60.93 258.34,61.38 258.91,61.97 259.48,62.70 260.05,63.67 260.63,65.02 261.20,66.79 261.77,68.84 262.34,70.98 262.92,73.02 263.49,74.87 264.06,76.53 264.63,78.09 265.21,79.59 265.78,81.05 266.35,82.46 266.92,83.83 267.50,85.16 268.07,86.46 268.64,87.70 269.21,88.87 269.78,89.97 270.36,91.02 270.93,92.03 271.50,93.03 272.07,94.00 272.65,94.95 273.22,95.86 273.79,96.72 274.36,97.52 274.94,98.26 275.51,98.91 276.08,99.55 276.65,100.10 277.23,100.56 277.80,100.91 278.37,101.23 278.94,101.62 279.52,102.06 280.09,102.12 280.66,102.30 281.23,102.37 281.81,102.85 282.38,103.06 282.95,103.37 283.52,103.37 284.09,103.38 284.67,104.04 285.24,104.03 285.81,104.42 286.38,104.52 286.96,104.60 287.53,104.63 288.10,105.06 288.67,105.12 289.25,104.96 289.82,105.29 290.39,105.41 290.96,105.63 291.54,105.90 292.11,105.94 292.68,106.07 293.25,106.33 293.83,106.28 294.40,106.64 294.97,106.61 295.54,106.94 296.12,106.95 296.69,107.38 297.26,107.51 297.83,107.77 298.40,107.45 298.98,107.73 299.55,107.93 300.12,107.98 300.69,108.40 301.27,108.34 301.84,108.58 302.41,108.97 302.98,108.78 303.56,109.02 304.13,108.69 304.70,109.24 305.27,109.34 305.85,109.14 306.42,109.46 306.99,109.84 307.56,109.65 308.14,109.96 308.71,109.59 309.28,110.25 309.85,110.30 310.43,110.80 311.00,110.50 311.57,110.10 312.14,110.60 312.71,110.86 313.29,110.71 313.86,110.92 314.43,110.96 315.00,110.55 315.58,110.73 316.15,110.89 316.72,110.94 317.29,111.52 317.87,111.77 318.44,111.29 319.01,111.40 319.58,111.50 320.16,111.55 320.73,111.40 321.30,111.45 321.87,111.52 322.45,111.49 323.02,111.64 323.59,111.68 324.16,111.35 324.74,111.68 325.31,111.25 325.59,111.52 325.88,111.64 326.17,111.44 326.45,111.76 326.74,111.70 327.02,111.69 327.31,111.17 327.60,109.89 327.88,109.62 328.17,111.08 328.46,111.86 328.74,111.86 329.03,112.06 329.31,111.57 329.60,111.54 329.89,111.65 330.17,111.65 330.75,111.62 331.32,111.65 331.89,111.61 332.46,111.70 333.03,111.95 333.61,111.57 334.18,111.50 334.75,112.09 335.32,111.82 335.90,112.00 336.47,111.68 337.04,111.84 337.61,111.50 338.19,111.57 338.76,111.88 339.33,111.88 339.90,111.90 340.48,111.67 341.05,111.97 341.62,111.70 342.19,112.06 342.77,111.57 343.34,111.68 343.91,112.00 344.48,111.92 345.06,111.73 345.63,111.69 346.20,112.30 346.77,111.69 347.35,111.43 347.92,111.80 348.49,111.97 349.06,111.45 349.63,111.63 350.21,111.63 350.78,111.54 351.35,111.88 351.92,111.76 352.50,111.84 353.07,111.82 353.64,111.65 354.21,111.78" stroke="#35a865" stroke-width="1.2" fill="none" stroke-linejoin="round"/>
<path d="M211.40,89.69 211.97,89.83 212.54,90.03 213.12,90.26 213.69,90.50 214.26,90.77 214.83,91.05 215.41,91.35 215.98,91.66 216.55,91.99 217.12,92.32 217.70,92.67 218.27,93.03 218.84,93.41 219.41,93.83 219.99,94.27 220.56,94.73 221.13,95.21 221.70,95.71 222.28,96.22 222.85,96.74 223.42,97.27 223.99,97.82 224.57,98.39 225.14,98.98 225.71,99.59 226.28,100.21 226.85,100.83 227.43,101.46 228.00,102.08 228.57,102.70 229.14,103.34 229.72,104.04 230.29,104.76 230.86,105.41 231.43,105.92 232.01,106.21 232.58,106.27 233.15,106.14 233.72,105.86 234.30,105.44 234.87,104.86 235.44,104.13 236.01,103.28 236.59,102.31 237.16,101.21 237.73,99.95 238.30,98.57 238.88,97.11 239.45,95.60 240.02,94.06 240.59,92.50 241.16,90.89 241.74,89.25 242.31,87.60 242.88,85.94 243.45,84.30 244.03,82.65 244.60,81.02 245.17,79.39 245.74,77.79 246.32,76.21 246.89,74.64 247.46,73.08 248.03,71.52 248.61,69.94 249.18,68.30 249.75,66.56 250.32,64.73 250.90,62.86 251.47,60.99 252.04,59.14 252.61,57.30 253.19,55.52 253.76,53.92 254.33,52.62 254.90,51.59 255.47,50.77 256.05,50.15 256.62,49.79 257.19,49.75 257.76,50.01 258.34,50.51 258.91,51.20 259.48,52.09 260.05,53.29 260.63,54.92 261.20,56.92 261.77,59.12 262.34,61.34 262.92,63.49 263.49,65.51 264.06,67.42 264.63,69.25 265.21,71.04 265.78,72.80 266.35,74.52 266.92,76.22 267.50,77.91 268.07,79.57 268.64,81.18 269.21,82.69 269.78,84.08 270.36,85.38 270.93,86.63 271.50,87.85 272.07,89.05 272.65,90.22 273.22,91.34 273.79,92.40 274.36,93.38 274.94,94.27 275.51,95.12 276.08,95.88 276.65,96.68 277.23,97.27 277.80,97.84 278.37,98.33 278.94,98.76 279.52,99.27 280.09,99.68 280.66,99.85 281.23,100.03 281.81,100.36 282.38,100.97 282.95,101.35 283.52,101.48 284.09,101.70 284.67,101.73 285.24,102.33 285.81,102.67 286.38,102.54 286.96,103.11 287.53,103.34 288.10,103.27 288.67,103.61 289.25,103.97 289.82,104.00 290.39,104.20 290.96,104.34 291.54,104.61 292.11,104.52 292.68,104.87 293.25,105.09 293.83,104.93 294.40,105.48 294.97,105.33 295.54,105.53 296.12,105.88 296.69,105.96 297.26,106.46 297.83,106.30 298.40,106.72 298.98,106.86 299.55,106.81 300.12,107.17 300.69,107.16 301.27,107.26 301.84,107.28 302.41,107.56 302.98,107.58 303.56,108.07 304.13,108.14 304.70,108.09 305.27,108.13 305.85,108.41 306.42,108.74 306.99,108.99 307.56,109.10 308.14,108.83 308.71,109.38 309.28,109.36 309.85,109.32 310.43,109.49 311.00,109.84 311.57,109.43 312.14,109.91 312.71,110.01 313.29,110.03 313.86,110.38 314.43,110.30 315.00,110.58 315.58,110.84 316.15,110.96 316.72,110.80 317.29,110.94 317.87,111.08 318.44,111.20 319.01,111.22 319.58,111.06 320.16,111.03 320.73,111.32 321.30,111.24 321.87,111.67 322.45,111.55 323.02,111.48 323.59,111.54 324.16,111.25 324.74,111.80 325.31,111.32 325.59,111.29 325.88,111.00 326.17,111.53 326.45,111.36 326.74,111.17 327.02,111.40 327.31,112.91 327.60,115.68 327.88,115.84 328.17,112.74 328.46,111.48 328.74,111.24 329.03,111.39 329.31,111.34 329.60,111.31 329.89,111.68 330.17,111.39 330.75,111.35 331.32,111.58 331.89,111.74 332.46,111.53 333.03,111.54 333.61,111.44 334.18,111.93 334.75,111.66 335.32,111.21 335.90,111.35 336.47,111.63 337.04,111.67 337.61,111.66 338.19,111.80 338.76,111.70 339.33,111.63 339.90,111.85 340.48,111.63 341.05,111.57 341.62,111.86 342.19,111.70 342.77,111.91 343.34,111.59 343.91,111.55 344.48,111.69 345.06,111.57 345.63,111.47 346.20,111.43 346.77,111.81 347.35,111.60 347.92,111.81 348.49,111.88 349.06,111.31 349.63,111.34 350.21,111.23 350.78,111.31 351.35,111.54 351.92,111.38 352.50,111.51 353.07,111.12 353.64,111.82 354.21,111.27" stroke="#a866f0" stroke-width="1.2" fill="none" stroke-linejoin="round"/>
<path d="M211.40,86.91 211.97,87.05 212.54,87.26 213.12,87.51 213.69,87.77 214.26,88.06 214.83,88.37 215.41,88.69 215.98,89.03 216.55,89.38 217.12,89.75 217.70,90.13 218.27,90.52 218.84,90.95 219.41,91.40 219.99,91.89 220.56,92.40 221.13,92.94 221.70,93.49 222.28,94.06 222.85,94.64 223.42,95.23 223.99,95.85 224.57,96.49 225.14,97.16 225.71,97.85 226.28,98.56 226.85,99.27 227.43,99.98 228.00,100.68 228.57,101.38 229.14,102.10 229.72,102.88 230.29,103.68 230.86,104.39 231.43,104.93 232.01,105.21 232.58,105.25 233.15,105.12 233.72,104.85 234.30,104.45 234.87,103.87 235.44,103.08 236.01,102.12 236.59,101.03 237.16,99.77 237.73,98.32 238.30,96.72 238.88,95.04 239.45,93.32 240.02,91.60 240.59,89.89 241.16,88.15 241.74,86.40 242.31,84.64 242.88,82.89 243.45,81.16 244.03,79.46 244.60,77.79 245.17,76.18 245.74,74.62 246.32,73.08 246.89,71.54 247.46,69.98 248.03,68.37 248.61,66.67 249.18,64.82 249.75,62.80 250.32,60.61 250.90,58.33 251.47,56.01 252.04,53.66 252.61,51.27 253.19,48.89 253.76,46.75 254.33,45.01 254.90,43.66 255.47,42.58 256.05,41.74 256.62,41.25 257.19,41.14 257.76,41.39 258.34,41.93 258.91,42.70 259.48,43.71 260.05,45.10 260.63,46.95 261.20,49.14 261.77,51.44 262.34,53.73 262.92,55.97 263.49,58.13 264.06,60.22 264.63,62.27 265.21,64.29 265.78,66.28 266.35,68.26 266.92,70.22 267.50,72.18 268.07,74.14 268.64,76.03 269.21,77.80 269.78,79.43 270.36,80.93 270.93,82.37 271.50,83.76 272.07,85.13 272.65,86.48 273.22,87.77 273.79,88.99 274.36,90.11 274.94,91.15 275.51,92.11 276.08,93.00 276.65,93.92 277.23,94.61 277.80,95.32 278.37,96.12 278.94,96.44 279.52,97.19 280.09,97.69 280.66,97.91 281.23,98.53 281.81,98.82 282.38,99.24 282.95,99.75 283.52,99.71 284.09,100.04 284.67,100.58 285.24,100.61 285.81,101.18 286.38,101.40 286.96,101.76 287.53,102.20 288.10,102.25 288.67,102.58 289.25,102.53 289.82,102.78 290.39,103.11 290.96,102.94 291.54,103.29 292.11,103.19 292.68,103.79 293.25,103.97 293.83,104.21 294.40,104.20 294.97,104.46 295.54,104.61 296.12,104.48 296.69,104.86 297.26,105.33 297.83,105.32 298.40,105.65 298.98,105.85 299.55,106.02 300.12,106.16 300.69,106.23 301.27,106.33 301.84,106.69 302.41,107.02 302.98,107.03 303.56,107.23 304.13,107.41 304.70,107.75 305.27,107.70 305.85,108.19 306.42,107.75 306.99,108.01 307.56,108.15 308.14,108.63 308.71,108.55 309.28,108.50 309.85,108.93 310.43,109.24 311.00,109.19 311.57,109.74 312.14,109.27 312.71,109.51 313.29,110.00 313.86,109.75 314.43,109.81 315.00,110.04 315.58,110.18 316.15,110.14 316.72,110.51 317.29,110.40 317.87,110.81 318.44,110.99 319.01,110.99 319.58,111.18 320.16,110.95 320.73,111.19 321.30,111.01 321.87,111.04 322.45,110.81 323.02,110.81 323.59,111.28 324.16,111.22 324.74,111.24 325.31,111.35 325.59,110.89 325.88,111.01 326.17,111.30 326.45,111.53 326.74,111.40 327.02,111.22 327.31,110.38 327.60,109.56 327.88,109.05 328.17,110.99 328.46,111.20 328.74,111.56 329.03,111.42 329.31,111.81 329.60,111.24 329.89,111.36 330.17,111.57 330.75,111.79 331.32,111.41 331.89,111.41 332.46,111.70 333.03,111.33 333.61,111.46 334.18,111.66 334.75,111.61 335.32,111.93 335.90,111.33 336.47,111.28 337.04,111.51 337.61,111.72 338.19,111.70 338.76,111.54 339.33,111.66 339.90,111.43 340.48,111.65 341.05,111.31 341.62,111.25 342.19,111.59 342.77,111.63 343.34,112.04 343.91,111.46 344.48,111.38 345.06,111.63 345.63,111.22 346.20,111.55 346.77,111.64 347.35,111.24 347.92,111.30 348.49,111.77 349.06,111.49 349.63,111.59 350.21,111.36 350.78,111.27 351.35,111.37 351.92,111.23 352.50,111.07 353.07,111.28 353.64,111.44 354.21,111.37" stroke="#d4a025" stroke-width="1.2" fill="none" stroke-linejoin="round"/>
<path d="M211.40,83.19 211.97,83.35 212.54,83.58 213.12,83.84 213.69,84.13 214.26,84.45 214.83,84.79 215.41,85.15 215.98,85.52 216.55,85.91 217.12,86.32 217.70,86.74 218.27,87.18 218.84,87.66 219.41,88.17 219.99,88.72 220.56,89.30 221.13,89.91 221.70,90.54 222.28,91.18 222.85,91.85 223.42,92.52 223.99,93.23 224.57,93.97 225.14,94.74 225.71,95.54 226.28,96.36 226.85,97.18 227.43,98.00 228.00,98.81 228.57,99.61 229.14,100.45 229.72,101.34 230.29,102.24 230.86,103.04 231.43,103.61 232.01,103.88 232.58,103.89 233.15,103.75 233.72,103.51 234.30,103.13 234.87,102.54 235.44,101.68 236.01,100.59 236.59,99.32 237.16,97.85 237.73,96.15 238.30,94.27 238.88,92.27 239.45,90.27 240.02,88.32 240.59,86.41 241.16,84.50 241.74,82.60 242.31,80.70 242.88,78.82 243.45,76.98 244.03,75.20 244.60,73.50 245.17,71.90 245.74,70.38 246.32,68.90 246.89,67.41 247.46,65.85 248.03,64.17 248.61,62.30 249.18,60.19 249.75,57.78 250.32,55.12 250.90,52.29 251.47,49.37 252.04,46.36 252.61,43.23 253.19,40.06 253.76,37.18 254.33,34.87 254.90,33.09 255.47,31.66 256.05,30.54 256.62,29.85 257.19,29.65 257.76,29.89 258.34,30.49 258.91,31.36 259.48,32.53 260.05,34.17 260.63,36.31 261.20,38.75 261.77,41.21 262.34,43.59 262.92,45.93 263.49,48.27 264.06,50.62 264.63,52.96 265.21,55.28 265.78,57.60 266.35,59.90 266.92,62.21 267.50,64.55 268.07,66.89 268.64,69.17 269.21,71.29 269.78,73.22 270.36,75.00 270.93,76.68 271.50,78.31 272.07,79.92 272.65,81.50 273.22,83.01 273.79,84.44 274.36,85.75 274.94,86.95 275.51,88.08 276.08,89.22 276.65,90.24 277.23,91.27 277.80,92.15 278.37,92.85 278.94,93.67 279.52,94.25 280.09,94.86 280.66,95.31 281.23,95.95 281.81,96.50 282.38,97.02 282.95,97.51 283.52,97.72 284.09,97.94 284.67,98.95 285.24,98.86 285.81,99.59 286.38,99.84 286.96,100.09 287.53,100.40 288.10,100.66 288.67,100.95 289.25,100.73 289.82,101.57 290.39,101.63 290.96,101.85 291.54,101.86 292.11,102.33 292.68,102.28 293.25,102.44 293.83,102.28 294.40,102.72 294.97,103.06 295.54,103.24 296.12,103.12 296.69,103.72 297.26,104.05 297.83,104.27 298.40,104.44 298.98,104.43 299.55,105.01 300.12,105.15 300.69,105.25 301.27,105.63 301.84,105.53 302.41,105.92 302.98,105.94 303.56,106.13 304.13,106.13 304.70,106.27 305.27,106.94 305.85,107.21 306.42,107.36 306.99,107.22 307.56,107.38 308.14,107.65 308.71,107.83 309.28,107.69 309.85,107.98 310.43,108.27 311.00,108.35 311.57,108.91 312.14,108.56 312.71,108.56 313.29,109.10 313.86,109.39 314.43,109.24 315.00,109.75 315.58,109.80 316.15,109.87 316.72,110.17 317.29,110.15 317.87,110.78 318.44,110.98 319.01,110.47 319.58,110.58 320.16,110.68 320.73,110.84 321.30,110.79 321.87,110.74 322.45,111.08 323.02,110.84 323.59,111.06 324.16,110.54 324.74,110.90 325.31,110.94 325.59,110.81 325.88,110.83 326.17,110.84 326.45,111.16 326.74,111.02 327.02,110.80 327.31,110.01 327.60,107.75 327.88,107.89 328.17,110.05 328.46,110.75 328.74,111.35 329.03,111.39 329.31,111.37 329.60,111.44 329.89,110.91 330.17,110.81 330.75,111.09 331.32,111.18 331.89,110.95 332.46,111.02 333.03,111.67 333.61,111.26 334.18,110.79 334.75,111.34 335.32,111.41 335.90,111.40 336.47,110.99 337.04,111.38 337.61,111.22 338.19,111.07 338.76,111.27 339.33,111.30 339.90,111.50 340.48,111.54 341.05,111.10 341.62,111.55 342.19,111.09 342.77,111.06 343.34,111.00 343.91,111.31 344.48,111.43 345.06,111.24 345.63,111.00 346.20,111.13 346.77,111.13 347.35,111.23 347.92,111.01 348.49,111.54 349.06,111.37 349.63,110.84 350.21,111.02 350.78,110.96 351.35,111.43 351.92,111.20 352.50,111.10 353.07,111.01 353.64,110.74 354.21,111.05" stroke="#25cfcf" stroke-width="1.2" fill="none" stroke-linejoin="round"/>
<path d="M399.50,102.38 400.07,102.48 400.64,102.62 401.22,102.78 401.79,102.94 402.36,103.10 402.93,103.26 403.51,103.43 404.08,103.61 404.65,103.79 405.22,103.97 405.80,104.15 406.37,104.35 406.94,104.54 407.51,104.75 408.09,104.95 408.66,105.16 409.23,105.37 409.80,105.59 410.38,105.80 410.95,106.01 411.52,106.22 412.09,106.43 412.67,106.64 413.24,106.85 413.81,107.06 414.38,107.27 414.95,107.48 415.53,107.69 416.10,107.88 416.67,108.08 417.24,108.28 417.82,108.49 418.39,108.70 418.96,108.91 419.53,109.11 420.11,109.27 420.68,109.41 421.25,109.49 421.82,109.53 422.40,109.52 422.97,109.48 423.54,109.41 424.11,109.32 424.69,109.21 425.26,109.08 425.83,108.95 426.40,108.80 426.98,108.62 427.55,108.40 428.12,108.14 428.69,107.83 429.26,107.49 429.84,107.14 430.41,106.79 430.98,106.44 431.55,106.09 432.13,105.76 432.70,105.42 433.27,105.07 433.84,104.72 434.42,104.35 434.99,103.96 435.56,103.55 436.13,103.11 436.71,102.64 437.28,102.11 437.85,101.48 438.42,100.76 439.00,99.94 439.57,99.07 440.14,98.19 440.71,97.35 441.29,96.58 441.86,95.91 442.43,95.33 443.00,94.80 443.57,94.30 444.15,93.82 444.72,93.40 445.29,93.06 445.86,92.82 446.44,92.70 447.01,92.70 447.58,92.82 448.15,93.02 448.73,93.30 449.30,93.64 449.87,94.07 450.44,94.64 451.02,95.34 451.59,96.11 452.16,96.89 452.73,97.68 453.31,98.50 453.88,99.35 454.45,100.22 455.02,101.08 455.60,101.92 456.17,102.72 456.74,103.46 457.31,104.12 457.88,104.71 458.46,105.24 459.03,105.76 459.60,106.25 460.17,106.72 460.75,107.16 461.32,107.57 461.89,107.95 462.46,108.29 463.04,108.59 463.61,108.79 464.18,109.10 464.75,109.13 465.33,109.38 465.90,109.51 466.47,109.32 467.04,109.67 467.62,109.80 468.19,109.73 468.76,109.72 469.33,110.07 469.91,110.01 470.48,110.55 471.05,110.49 471.62,110.63 472.19,111.06 472.77,111.27 473.34,111.46 473.91,111.02 474.48,111.10 475.06,111.26 475.63,111.18 476.20,111.84 476.77,111.39 477.35,111.32 477.92,111.17 478.49,111.88 479.06,111.75 479.64,112.46 480.21,111.89 480.78,112.63 481.35,112.35 481.93,111.36 482.50,112.76 483.07,111.56 483.64,111.79 484.22,112.09 484.79,111.81 485.36,111.82 485.93,111.64 486.50,112.20 487.08,112.39 487.65,112.43 488.22,112.62 488.79,112.27 489.37,112.61 489.94,111.89 490.51,113.14 491.08,112.86 491.66,112.85 492.23,113.36 492.80,111.76 493.37,113.58 493.95,112.75 494.52,112.90 495.09,112.04 495.66,113.58 496.24,112.37 496.81,113.15 497.38,112.95 497.95,113.20 498.53,112.69 499.10,113.45 499.67,113.04 500.24,112.89 500.81,112.30 501.39,114.07 501.96,112.47 502.53,112.74 503.10,113.35 503.68,113.04 504.25,113.38 504.82,112.53 505.39,113.14 505.97,113.34 506.54,113.36 507.11,113.36 507.68,113.37 508.26,113.67 508.83,112.47 509.40,114.11 509.97,114.81 510.55,113.38 511.12,113.40 511.69,113.18 512.26,113.42 512.84,113.40 513.41,113.20 513.69,112.94 513.98,113.52 514.27,113.48 514.55,112.52 514.84,113.09 515.12,113.77 515.41,113.16 515.70,115.73 515.98,116.25 516.27,114.48 516.56,113.05 516.84,113.41 517.13,113.47 517.41,113.56 517.70,113.22 517.99,112.55 518.27,113.19 518.85,113.60 519.42,112.73 519.99,112.98 520.56,112.66 521.13,112.51 521.71,113.08 522.28,113.07 522.85,113.03 523.42,113.47 524.00,112.73 524.57,112.44 525.14,112.94 525.71,113.11 526.29,113.11 526.86,113.33 527.43,113.34 528.00,113.17 528.58,113.35 529.15,113.19 529.72,113.66 530.29,112.86 530.87,112.99 531.44,113.48 532.01,113.95 532.58,113.01 533.16,112.55 533.73,113.31 534.30,113.21 534.87,113.24 535.45,112.74 536.02,113.38 536.59,112.60 537.16,113.13 537.73,112.63 538.31,112.99 538.88,113.10 539.45,113.62 540.02,113.29 540.60,113.11 541.17,112.74 541.74,112.91 542.31,113.29" stroke="#5a5a5a" stroke-width="1.2" fill="none" stroke-linejoin="round"/>
<path d="M399.50,98.45 400.07,98.58 400.64,98.76 401.22,98.96 401.79,99.17 402.36,99.38 402.93,99.60 403.51,99.82 404.08,100.04 404.65,100.28 405.22,100.51 405.80,100.76 406.37,101.01 406.94,101.26 407.51,101.52 408.09,101.79 408.66,102.07 409.23,102.34 409.80,102.63 410.38,102.91 410.95,103.21 411.52,103.50 412.09,103.80 412.67,104.11 413.24,104.43 413.81,104.76 414.38,105.09 414.95,105.42 415.53,105.76 416.10,106.10 416.67,106.45 417.24,106.82 417.82,107.22 418.39,107.64 418.96,108.05 419.53,108.42 420.11,108.72 420.68,108.92 421.25,109.00 421.82,108.97 422.40,108.85 422.97,108.66 423.54,108.41 424.11,108.10 424.69,107.76 425.26,107.40 425.83,107.01 426.40,106.62 426.98,106.21 427.55,105.75 428.12,105.25 428.69,104.69 429.26,104.08 429.84,103.42 430.41,102.72 430.98,101.99 431.55,101.21 432.13,100.39 432.70,99.49 433.27,98.50 433.84,97.44 434.42,96.32 434.99,95.13 435.56,93.87 436.13,92.49 436.71,90.97 437.28,89.33 437.85,87.64 438.42,85.99 439.00,84.46 439.57,83.11 440.14,81.93 440.71,80.87 441.29,79.90 441.86,79.06 442.43,78.39 443.00,77.89 443.57,77.53 444.15,77.25 444.72,77.05 445.29,76.93 445.86,76.98 446.44,77.25 447.01,77.76 447.58,78.46 448.15,79.28 448.73,80.19 449.30,81.22 449.87,82.43 450.44,83.78 451.02,85.21 451.59,86.62 452.16,87.99 452.73,89.30 453.31,90.60 453.88,91.89 454.45,93.16 455.02,94.39 455.60,95.57 456.17,96.67 456.74,97.71 457.31,98.71 457.88,99.68 458.46,100.61 459.03,101.51 459.60,102.35 460.17,103.12 460.75,103.82 461.32,104.45 461.89,105.01 462.46,105.54 463.04,106.04 463.61,106.49 464.18,106.99 464.75,107.44 465.33,107.83 465.90,108.04 466.47,108.38 467.04,108.88 467.62,108.88 468.19,109.23 468.76,109.47 469.33,109.14 469.91,109.36 470.48,109.92 471.05,109.80 471.62,109.77 472.19,110.26 472.77,110.17 473.34,109.96 473.91,111.04 474.48,110.25 475.06,110.16 475.63,110.34 476.20,111.18 476.77,110.57 477.35,111.14 477.92,110.63 478.49,110.69 479.06,110.93 479.64,111.41 480.21,111.41 480.78,110.89 481.35,111.68 481.93,111.18 482.50,111.24 483.07,111.63 483.64,110.60 484.22,111.62 484.79,110.82 485.36,112.60 485.93,112.75 486.50,111.48 487.08,111.67 487.65,112.11 488.22,112.05 488.79,112.86 489.37,112.38 489.94,112.59 490.51,112.30 491.08,111.88 491.66,112.26 492.23,112.17 492.80,112.65 493.37,112.58 493.95,112.39 494.52,112.59 495.09,112.00 495.66,112.91 496.24,111.81 496.81,113.03 497.38,112.23 497.95,113.02 498.53,112.06 499.10,112.71 499.67,112.64 500.24,112.53 500.81,113.12 501.39,113.32 501.96,113.76 502.53,112.45 503.10,113.26 503.68,113.24 504.25,113.04 504.82,112.23 505.39,113.78 505.97,112.98 506.54,113.27 507.11,112.90 507.68,113.87 508.26,113.31 508.83,112.81 509.40,112.52 509.97,112.51 510.55,113.52 511.12,113.15 511.69,113.22 512.26,113.74 512.84,113.76 513.41,112.86 513.69,113.07 513.98,113.23 514.27,112.66 514.55,113.56 514.84,112.91 515.12,113.21 515.41,114.37 515.70,117.04 515.98,117.11 516.27,114.06 516.56,112.82 516.84,111.97 517.13,112.85 517.41,112.29 517.70,112.44 517.99,112.83 518.27,112.35 518.85,113.03 519.42,112.20 519.99,113.01 520.56,112.88 521.13,112.55 521.71,112.34 522.28,112.31 522.85,112.31 523.42,112.76 524.00,113.07 524.57,112.45 525.14,112.55 525.71,113.07 526.29,112.28 526.86,112.60 527.43,113.07 528.00,112.50 528.58,113.22 529.15,113.04 529.72,112.51 530.29,113.32 530.87,112.66 531.44,113.23 532.01,112.38 532.58,112.98 533.16,112.60 533.73,113.30 534.30,112.82 534.87,112.29 535.45,112.49 536.02,113.43 536.59,112.30 537.16,112.31 537.73,112.83 538.31,112.10 538.88,113.11 539.45,112.71 540.02,112.22 540.60,112.14 541.17,112.15 541.74,113.13 542.31,113.41" stroke="#ff3a3a" stroke-width="1.2" fill="none" stroke-linejoin="round"/>
<path d="M399.50,94.85 400.07,95.01 400.64,95.23 401.22,95.47 401.79,95.73 402.36,95.99 402.93,96.26 403.51,96.53 404.08,96.81 404.65,97.10 405.22,97.39 405.80,97.69 406.37,98.00 406.94,98.32 407.51,98.65 408.09,98.98 408.66,99.33 409.23,99.67 409.80,100.03 410.38,100.39 410.95,100.76 411.52,101.13 412.09,101.50 412.67,101.89 413.24,102.28 413.81,102.69 414.38,103.10 414.95,103.52 415.53,103.94 416.10,104.37 416.67,104.81 417.24,105.29 417.82,105.81 418.39,106.37 418.96,106.91 419.53,107.40 420.11,107.79 420.68,108.05 421.25,108.15 421.82,108.09 422.40,107.89 422.97,107.56 423.54,107.13 424.11,106.62 424.69,106.05 425.26,105.43 425.83,104.78 426.40,104.12 426.98,103.41 427.55,102.64 428.12,101.77 428.69,100.80 429.26,99.75 429.84,98.63 430.41,97.44 430.98,96.19 431.55,94.90 432.13,93.53 432.70,92.04 433.27,90.42 433.84,88.68 434.42,86.85 434.99,84.96 435.56,83.05 436.13,81.16 436.71,79.31 437.28,77.52 437.85,75.74 438.42,73.95 439.00,72.14 439.57,70.38 440.14,68.73 440.71,67.24 441.29,65.96 441.86,64.86 442.43,63.86 443.00,62.93 443.57,62.11 444.15,61.46 444.72,61.04 445.29,60.92 445.86,61.18 446.44,61.83 447.01,62.80 447.58,63.99 448.15,65.31 448.73,66.74 449.30,68.35 449.87,70.23 450.44,72.31 451.02,74.47 451.59,76.59 452.16,78.58 452.73,80.46 453.31,82.30 453.88,84.12 454.45,85.91 455.02,87.68 455.60,89.39 456.17,91.04 456.74,92.62 457.31,94.10 457.88,95.48 458.46,96.76 459.03,97.95 459.60,99.09 460.17,100.19 460.75,101.22 461.32,102.17 461.89,103.02 462.46,103.76 463.04,104.36 463.61,104.92 464.18,105.31 464.75,105.81 465.33,105.97 465.90,106.33 466.47,106.67 467.04,107.05 467.62,107.33 468.19,107.65 468.76,107.74 469.33,107.99 469.91,108.12 470.48,108.55 471.05,108.00 471.62,108.63 472.19,108.36 472.77,108.47 473.34,109.41 473.91,109.85 474.48,108.73 475.06,109.49 475.63,109.37 476.20,109.59 476.77,109.50 477.35,110.12 477.92,109.75 478.49,109.97 479.06,109.86 479.64,110.89 480.21,109.66 480.78,109.93 481.35,110.85 481.93,110.51 482.50,110.26 483.07,110.09 483.64,110.41 484.22,109.90 484.79,110.52 485.36,111.01 485.93,110.93 486.50,110.40 487.08,111.02 487.65,110.47 488.22,110.45 488.79,110.68 489.37,110.55 489.94,111.08 490.51,111.06 491.08,111.34 491.66,111.39 492.23,111.82 492.80,111.45 493.37,111.70 493.95,111.88 494.52,111.27 495.09,111.18 495.66,111.54 496.24,110.87 496.81,111.08 497.38,111.07 497.95,111.78 498.53,112.17 499.10,111.36 499.67,111.50 500.24,111.35 500.81,111.51 501.39,111.19 501.96,111.86 502.53,111.49 503.10,112.16 503.68,112.77 504.25,112.03 504.82,111.26 505.39,112.60 505.97,111.52 506.54,112.24 507.11,112.15 507.68,112.00 508.26,111.96 508.83,112.47 509.40,112.05 509.97,111.95 510.55,111.81 511.12,112.50 511.69,111.58 512.26,111.47 512.84,111.29 513.41,112.87 513.69,112.26 513.98,113.10 514.27,112.19 514.55,112.12 514.84,112.82 515.12,113.06 515.41,112.92 515.70,114.22 515.98,114.80 516.27,113.11 516.56,113.45 516.84,112.64 517.13,112.29 517.41,112.29 517.70,111.70 517.99,112.82 518.27,113.28 518.85,112.16 519.42,112.59 519.99,112.23 520.56,112.05 521.13,112.10 521.71,111.76 522.28,111.79 522.85,113.03 523.42,112.38 524.00,111.53 524.57,112.52 525.14,111.95 525.71,112.37 526.29,112.52 526.86,111.70 527.43,111.92 528.00,112.45 528.58,111.98 529.15,112.89 529.72,112.65 530.29,111.98 530.87,112.33 531.44,112.79 532.01,112.16 532.58,112.21 533.16,111.82 533.73,111.96 534.30,112.46 534.87,112.55 535.45,112.41 536.02,112.44 536.59,111.75 537.16,111.70 537.73,111.79 538.31,112.19 538.88,112.45 539.45,111.98 540.02,112.49 540.60,112.25 541.17,113.03 541.74,112.52 542.31,111.76" stroke="#3a6cf0" stroke-width="1.2" fill="none" stroke-linejoin="round"/>
<path d="M399.50,88.14 400.07,88.37 400.64,88.69 401.22,89.04 401.79,89.40 402.36,89.77 402.93,90.16 403.51,90.55 404.08,90.96 404.65,91.37 405.22,91.80 405.80,92.24 406.37,92.70 406.94,93.17 407.51,93.65 408.09,94.14 408.66,94.65 409.23,95.17 409.80,95.69 410.38,96.23 410.95,96.77 411.52,97.33 412.09,97.89 412.67,98.49 413.24,99.11 413.81,99.76 414.38,100.42 414.95,101.06 415.53,101.68 416.10,102.26 416.67,102.80 417.24,103.33 417.82,103.85 418.39,104.38 418.96,104.89 419.53,105.37 420.11,105.79 420.68,106.13 421.25,106.38 421.82,106.48 422.40,106.39 422.97,106.04 423.54,105.43 424.11,104.64 424.69,103.74 425.26,102.78 425.83,101.73 426.40,100.56 426.98,99.25 427.55,97.82 428.12,96.30 428.69,94.71 429.26,93.04 429.84,91.25 430.41,89.34 430.98,87.33 431.55,85.24 432.13,83.10 432.70,80.93 433.27,78.77 433.84,76.61 434.42,74.41 434.99,72.17 435.56,69.89 436.13,67.62 436.71,65.38 437.28,63.20 437.85,61.11 438.42,59.09 439.00,57.12 439.57,55.19 440.14,53.34 440.71,51.60 441.29,50.02 441.86,48.59 442.43,47.24 443.00,45.96 443.57,44.82 444.15,43.94 444.72,43.44 445.29,43.36 445.86,43.67 446.44,44.27 447.01,45.10 447.58,46.09 448.15,47.24 448.73,48.65 449.30,50.45 449.87,52.70 450.44,55.28 451.02,58.06 451.59,60.88 452.16,63.62 452.73,66.24 453.31,68.81 453.88,71.37 454.45,73.94 455.02,76.48 455.60,78.98 456.17,81.47 456.74,84.01 457.31,86.62 457.88,89.23 458.46,91.70 459.03,93.90 459.60,95.69 460.17,97.05 460.75,98.07 461.32,98.94 461.89,99.71 462.46,100.43 463.04,101.10 463.61,101.74 464.18,102.23 464.75,102.57 465.33,103.00 465.90,103.59 466.47,103.97 467.04,104.23 467.62,104.65 468.19,104.72 468.76,105.01 469.33,105.51 469.91,105.48 470.48,105.57 471.05,105.92 471.62,106.17 472.19,105.62 472.77,105.37 473.34,106.30 473.91,106.49 474.48,106.22 475.06,106.64 475.63,106.99 476.20,106.22 476.77,107.35 477.35,107.36 477.92,107.46 478.49,107.69 479.06,107.56 479.64,107.36 480.21,107.14 480.78,107.59 481.35,107.98 481.93,108.64 482.50,108.28 483.07,108.77 483.64,108.55 484.22,108.23 484.79,108.67 485.36,108.96 485.93,109.30 486.50,109.11 487.08,109.16 487.65,109.69 488.22,109.62 488.79,109.14 489.37,110.28 489.94,109.86 490.51,110.24 491.08,109.20 491.66,109.66 492.23,109.77 492.80,109.88 493.37,109.99 493.95,110.06 494.52,110.89 495.09,110.19 495.66,110.11 496.24,111.00 496.81,110.13 497.38,110.24 497.95,111.19 498.53,110.81 499.10,110.79 499.67,110.92 500.24,110.59 500.81,111.31 501.39,110.92 501.96,110.77 502.53,110.60 503.10,110.92 503.68,111.07 504.25,110.72 504.82,111.85 505.39,110.68 505.97,111.22 506.54,111.64 507.11,111.34 507.68,111.94 508.26,112.06 508.83,111.38 509.40,111.60 509.97,111.00 510.55,111.70 511.12,111.89 511.69,111.78 512.26,110.71 512.84,111.43 513.41,111.72 513.69,111.89 513.98,111.95 514.27,111.58 514.55,111.36 514.84,111.09 515.12,111.07 515.41,110.87 515.70,109.82 515.98,109.94 516.27,112.05 516.56,112.14 516.84,111.64 517.13,111.97 517.41,111.69 517.70,112.41 517.99,111.49 518.27,111.73 518.85,111.84 519.42,111.69 519.99,112.78 520.56,112.09 521.13,112.22 521.71,111.11 522.28,111.93 522.85,112.06 523.42,111.51 524.00,112.29 524.57,111.27 525.14,112.15 525.71,111.88 526.29,112.23 526.86,111.52 527.43,112.75 528.00,111.57 528.58,112.19 529.15,111.84 529.72,112.33 530.29,111.76 530.87,111.78 531.44,111.61 532.01,111.73 532.58,111.60 533.16,111.45 533.73,112.02 534.30,112.34 534.87,112.38 535.45,111.58 536.02,112.01 536.59,111.42 537.16,111.84 537.73,112.27 538.31,111.48 538.88,111.06 539.45,111.93 540.02,112.24 540.60,112.20 541.17,111.49 541.74,112.10 542.31,112.02" stroke="#35a865" stroke-width="1.2" fill="none" stroke-linejoin="round"/>
<path d="M399.50,81.20 400.07,81.64 400.64,82.24 401.22,82.88 401.79,83.51 402.36,84.14 402.93,84.76 403.51,85.38 404.08,85.99 404.65,86.59 405.22,87.19 405.80,87.77 406.37,88.33 406.94,88.89 407.51,89.43 408.09,89.97 408.66,90.51 409.23,91.05 409.80,91.60 410.38,92.16 410.95,92.74 411.52,93.33 412.09,93.95 412.67,94.60 413.24,95.28 413.81,95.98 414.38,96.70 414.95,97.43 415.53,98.14 416.10,98.84 416.67,99.54 417.24,100.27 417.82,101.04 418.39,101.84 418.96,102.60 419.53,103.29 420.11,103.84 420.68,104.19 421.25,104.31 421.82,104.14 422.40,103.70 422.97,103.03 423.54,102.20 424.11,101.28 424.69,100.28 425.26,99.13 425.83,97.80 426.40,96.31 426.98,94.72 427.55,93.07 428.12,91.34 428.69,89.52 429.26,87.62 429.84,85.67 430.41,83.69 430.98,81.69 431.55,79.71 432.13,77.76 432.70,75.85 433.27,73.98 433.84,72.13 434.42,70.28 434.99,68.42 435.56,66.52 436.13,64.57 436.71,62.55 437.28,60.42 437.85,58.17 438.42,55.77 439.00,53.25 439.57,50.67 440.14,48.10 440.71,45.58 441.29,43.14 441.86,40.70 442.43,38.16 443.00,35.62 443.57,33.29 444.15,31.49 444.72,30.42 445.29,30.14 445.86,30.47 446.44,31.20 447.01,32.20 447.58,33.41 448.15,34.81 448.73,36.50 449.30,38.64 449.87,41.21 450.44,44.03 451.02,46.90 451.59,49.81 452.16,52.79 452.73,55.84 453.31,58.92 453.88,61.98 454.45,64.98 455.02,67.96 455.60,70.90 456.17,73.78 456.74,76.51 457.31,79.05 457.88,81.42 458.46,83.67 459.03,85.80 459.60,87.80 460.17,89.64 460.75,91.29 461.32,92.78 461.89,94.14 462.46,95.41 463.04,96.58 463.61,97.68 464.18,98.65 464.75,99.58 465.33,100.37 465.90,100.98 466.47,101.63 467.04,102.16 467.62,102.92 468.19,103.28 468.76,103.72 469.33,104.24 469.91,104.49 470.48,104.69 471.05,105.20 471.62,105.48 472.19,106.06 472.77,105.80 473.34,106.14 473.91,106.40 474.48,106.76 475.06,106.33 475.63,105.64 476.20,106.63 476.77,106.88 477.35,106.84 477.92,107.36 478.49,107.17 479.06,107.57 479.64,107.65 480.21,107.37 480.78,107.45 481.35,107.67 481.93,108.02 482.50,107.66 483.07,108.28 483.64,107.58 484.22,108.10 484.79,108.02 485.36,107.76 485.93,107.91 486.50,108.73 487.08,108.36 487.65,108.16 488.22,108.82 488.79,109.41 489.37,108.51 489.94,108.56 490.51,108.42 491.08,108.62 491.66,108.65 492.23,108.66 492.80,108.25 493.37,108.66 493.95,108.69 494.52,109.12 495.09,108.55 495.66,109.13 496.24,108.80 496.81,110.02 497.38,109.10 497.95,109.28 498.53,109.48 499.10,108.81 499.67,109.22 500.24,109.50 500.81,109.70 501.39,108.77 501.96,109.28 502.53,109.36 503.10,110.00 503.68,109.20 504.25,109.55 504.82,109.94 505.39,109.92 505.97,110.59 506.54,109.71 507.11,110.47 507.68,109.73 508.26,110.30 508.83,110.43 509.40,110.07 509.97,110.19 510.55,110.79 511.12,110.41 511.69,110.17 512.26,110.57 512.84,111.07 513.41,110.67 513.69,111.00 513.98,110.88 514.27,110.67 514.55,110.77 514.84,110.92 515.12,111.77 515.41,112.65 515.70,116.94 515.98,117.17 516.27,113.14 516.56,110.96 516.84,112.22 517.13,112.42 517.41,111.50 517.70,112.16 517.99,111.32 518.27,112.26 518.85,112.05 519.42,111.51 519.99,111.48 520.56,111.67 521.13,111.67 521.71,111.91 522.28,112.04 522.85,111.94 523.42,111.34 524.00,111.57 524.57,111.85 525.14,111.73 525.71,111.52 526.29,111.37 526.86,111.91 527.43,111.89 528.00,111.72 528.58,110.79 529.15,111.76 529.72,111.34 530.29,112.48 530.87,111.51 531.44,112.43 532.01,112.30 532.58,112.12 533.16,111.91 533.73,111.78 534.30,111.71 534.87,111.76 535.45,112.04 536.02,110.80 536.59,111.70 537.16,111.58 537.73,111.03 538.31,111.46 538.88,111.62 539.45,111.72 540.02,111.09 540.60,112.30 541.17,112.25 541.74,111.80 542.31,112.69" stroke="#a866f0" stroke-width="1.2" fill="none" stroke-linejoin="round"/>
<path d="M399.50,90.92 400.07,91.10 400.64,91.37 401.22,91.67 401.79,91.98 402.36,92.30 402.93,92.64 403.51,92.99 404.08,93.35 404.65,93.72 405.22,94.11 405.80,94.51 406.37,94.93 406.94,95.38 407.51,95.84 408.09,96.31 408.66,96.80 409.23,97.30 409.80,97.81 410.38,98.32 410.95,98.83 411.52,99.34 412.09,99.86 412.67,100.39 413.24,100.95 413.81,101.51 414.38,102.08 414.95,102.64 415.53,103.17 416.10,103.66 416.67,104.12 417.24,104.56 417.82,105.00 418.39,105.43 418.96,105.85 419.53,106.23 420.11,106.56 420.68,106.81 421.25,106.96 421.82,106.98 422.40,106.79 422.97,106.35 423.54,105.71 424.11,104.92 424.69,104.04 425.26,103.09 425.83,102.04 426.40,100.83 426.98,99.46 427.55,97.97 428.12,96.39 428.69,94.74 429.26,93.03 429.84,91.22 430.41,89.30 430.98,87.29 431.55,85.20 432.13,83.07 432.70,80.92 433.27,78.77 433.84,76.63 434.42,74.48 434.99,72.31 435.56,70.13 436.13,67.92 436.71,65.69 437.28,63.44 437.85,61.18 438.42,58.87 439.00,56.51 439.57,54.11 440.14,51.70 440.71,49.35 441.29,47.09 441.86,44.90 442.43,42.70 443.00,40.47 443.57,38.40 444.15,36.77 444.72,35.79 445.29,35.51 445.86,35.73 446.44,36.28 447.01,37.04 447.58,37.97 448.15,39.06 448.73,40.43 449.30,42.24 449.87,44.54 450.44,47.24 451.02,50.16 451.59,53.16 452.16,56.12 452.73,59.03 453.31,61.97 453.88,64.96 454.45,67.98 455.02,70.94 455.60,73.77 456.17,76.43 456.74,78.96 457.31,81.38 457.88,83.70 458.46,85.86 459.03,87.82 459.60,89.58 460.17,91.17 460.75,92.66 461.32,94.06 461.89,95.35 462.46,96.49 463.04,97.50 463.61,98.24 464.18,98.97 464.75,99.49 465.33,99.92 465.90,100.58 466.47,100.80 467.04,101.31 467.62,101.75 468.19,101.92 468.76,102.16 469.33,102.52 469.91,102.86 470.48,102.66 471.05,102.81 471.62,103.21 472.19,103.64 472.77,104.19 473.34,104.31 473.91,104.63 474.48,104.26 475.06,104.14 475.63,104.29 476.20,104.82 476.77,105.10 477.35,105.01 477.92,105.16 478.49,105.09 479.06,104.85 479.64,105.85 480.21,104.83 480.78,106.65 481.35,106.62 481.93,106.62 482.50,106.52 483.07,106.30 483.64,105.46 484.22,106.68 484.79,106.03 485.36,106.72 485.93,106.60 486.50,107.16 487.08,105.90 487.65,106.92 488.22,107.24 488.79,106.14 489.37,107.07 489.94,107.05 490.51,107.35 491.08,107.70 491.66,108.01 492.23,107.56 492.80,106.90 493.37,107.44 493.95,107.75 494.52,107.30 495.09,108.17 495.66,107.29 496.24,107.91 496.81,108.30 497.38,107.74 497.95,107.86 498.53,108.26 499.10,108.09 499.67,107.84 500.24,107.73 500.81,108.70 501.39,109.49 501.96,107.64 502.53,108.64 503.10,108.76 503.68,108.47 504.25,108.88 504.82,108.34 505.39,109.33 505.97,108.96 506.54,109.45 507.11,108.37 507.68,109.15 508.26,108.66 508.83,108.60 509.40,109.71 509.97,109.37 510.55,109.04 511.12,109.37 511.69,109.49 512.26,109.14 512.84,109.16 513.41,109.82 513.69,109.67 513.98,109.39 514.27,109.62 514.55,109.73 514.84,110.35 515.12,109.23 515.41,109.42 515.70,107.44 515.98,107.77 516.27,109.89 516.56,110.82 516.84,111.45 517.13,111.07 517.41,110.80 517.70,111.17 517.99,111.06 518.27,111.16 518.85,111.35 519.42,110.62 519.99,111.64 520.56,111.21 521.13,110.94 521.71,111.24 522.28,111.79 522.85,111.81 523.42,110.73 524.00,111.75 524.57,111.36 525.14,111.14 525.71,111.33 526.29,112.09 526.86,112.14 527.43,111.41 528.00,111.68 528.58,111.47 529.15,111.33 529.72,111.30 530.29,111.91 530.87,112.05 531.44,110.98 532.01,111.62 532.58,111.84 533.16,112.18 533.73,111.14 534.30,111.88 534.87,111.79 535.45,111.11 536.02,111.24 536.59,111.13 537.16,111.88 537.73,112.53 538.31,111.77 538.88,111.49 539.45,111.63 540.02,111.00 540.60,111.22 541.17,111.79 541.74,111.13 542.31,111.42" stroke="#d4a025" stroke-width="1.2" fill="none" stroke-linejoin="round"/>
<path d="M399.50,89.45 400.07,89.66 400.64,89.96 401.22,90.29 401.79,90.63 402.36,90.99 402.93,91.36 403.51,91.74 404.08,92.13 404.65,92.54 405.22,92.96 405.80,93.39 406.37,93.84 406.94,94.31 407.51,94.80 408.09,95.30 408.66,95.81 409.23,96.34 409.80,96.87 410.38,97.40 410.95,97.95 411.52,98.49 412.09,99.04 412.67,99.61 413.24,100.20 413.81,100.81 414.38,101.42 414.95,102.02 415.53,102.59 416.10,103.13 416.67,103.63 417.24,104.11 417.82,104.59 418.39,105.08 418.96,105.54 419.53,105.97 420.11,106.33 420.68,106.61 421.25,106.79 421.82,106.81 422.40,106.63 422.97,106.22 423.54,105.61 424.11,104.85 424.69,104.01 425.26,103.09 425.83,102.05 426.40,100.85 426.98,99.48 427.55,97.98 428.12,96.39 428.69,94.74 429.26,93.03 429.84,91.22 430.41,89.30 430.98,87.29 431.55,85.20 432.13,83.07 432.70,80.92 433.27,78.77 433.84,76.62 434.42,74.46 434.99,72.27 435.56,70.06 436.13,67.83 436.71,65.60 437.28,63.37 437.85,61.16 438.42,58.94 439.00,56.69 439.57,54.43 440.14,52.19 440.71,50.04 441.29,48.01 441.86,46.09 442.43,44.20 443.00,42.33 443.57,40.62 444.15,39.28 444.72,38.49 445.29,38.27 445.86,38.48 446.44,38.98 447.01,39.68 447.58,40.54 448.15,41.57 448.73,42.88 449.30,44.67 449.87,46.98 450.44,49.71 451.02,52.71 451.59,55.80 452.16,58.88 452.73,61.97 453.31,65.17 453.88,68.48 454.45,71.78 455.02,74.90 455.60,77.69 456.17,80.09 456.74,82.18 457.31,84.05 457.88,85.79 458.46,87.44 459.03,89.07 459.60,90.69 460.17,92.27 460.75,93.76 461.32,95.12 461.89,96.29 462.46,97.29 463.04,98.15 463.61,98.88 464.18,99.76 464.75,100.24 465.33,100.83 465.90,101.74 466.47,101.98 467.04,102.37 467.62,102.87 468.19,103.02 468.76,103.29 469.33,103.27 469.91,103.60 470.48,104.22 471.05,103.38 471.62,103.58 472.19,104.28 472.77,103.78 473.34,103.42 473.91,104.94 474.48,104.56 475.06,104.69 475.63,104.34 476.20,104.77 476.77,105.30 477.35,104.29 477.92,105.01 478.49,104.66 479.06,104.09 479.64,105.40 480.21,105.33 480.78,104.85 481.35,105.33 481.93,105.13 482.50,105.40 483.07,104.31 483.64,105.25 484.22,105.42 484.79,105.57 485.36,105.51 485.93,106.39 486.50,105.88 487.08,105.51 487.65,106.36 488.22,105.90 488.79,106.01 489.37,106.23 489.94,105.05 490.51,105.83 491.08,106.04 491.66,106.55 492.23,106.24 492.80,106.45 493.37,106.41 493.95,106.33 494.52,105.44 495.09,105.96 495.66,105.86 496.24,106.04 496.81,105.49 497.38,106.98 497.95,107.29 498.53,106.72 499.10,106.76 499.67,106.91 500.24,107.24 500.81,106.76 501.39,106.40 501.96,107.09 502.53,107.34 503.10,106.83 503.68,107.52 504.25,107.61 504.82,107.41 505.39,108.55 505.97,106.92 506.54,107.81 507.11,107.63 507.68,107.80 508.26,107.84 508.83,108.63 509.40,107.44 509.97,108.01 510.55,108.20 511.12,107.10 511.69,108.99 512.26,108.23 512.84,108.65 513.41,109.30 513.69,107.94 513.98,109.44 514.27,108.82 514.55,109.01 514.84,109.04 515.12,109.58 515.41,107.87 515.70,106.11 515.98,107.00 516.27,109.68 516.56,110.29 516.84,111.17 517.13,110.66 517.41,110.81 517.70,111.25 517.99,111.85 518.27,111.62 518.85,110.97 519.42,111.37 519.99,110.42 520.56,111.39 521.13,111.08 521.71,110.98 522.28,111.24 522.85,111.16 523.42,110.89 524.00,111.38 524.57,111.19 525.14,111.49 525.71,110.52 526.29,111.28 526.86,111.01 527.43,112.58 528.00,111.56 528.58,111.82 529.15,111.34 529.72,111.54 530.29,111.79 530.87,111.47 531.44,111.01 532.01,110.90 532.58,111.56 533.16,110.89 533.73,111.58 534.30,111.06 534.87,111.66 535.45,110.86 536.02,110.32 536.59,111.38 537.16,110.75 537.73,111.83 538.31,111.47 538.88,110.10 539.45,111.20 540.02,110.94 540.60,111.80 541.17,111.11 541.74,111.40 542.31,110.56" stroke="#25cfcf" stroke-width="1.2" fill="none" stroke-linejoin="round"/>
<line x1="123.90" y1="13.90" x2="136.40" y2="13.90" stroke="#5a5a5a" stroke-width="1.3"/>
<text x="139.60" y="16.35">0.8 kGy</text>
<line x1="123.90" y1="22.70" x2="136.40" y2="22.70" stroke="#ff3a3a" stroke-width="1.3"/>
<text x="139.60" y="25.15">1.6 kGy</text>
<line x1="123.90" y1="31.50" x2="136.40" y2="31.50" stroke="#3a6cf0" stroke-width="1.3"/>
<text x="139.60" y="33.95">2.4 kGy</text>
<line x1="123.90" y1="40.30" x2="136.40" y2="40.30" stroke="#35a865" stroke-width="1.3"/>
<text x="139.60" y="42.75">3.2 kGy</text>
<line x1="123.90" y1="49.10" x2="136.40" y2="49.10" stroke="#a866f0" stroke-width="1.3"/>
<text x="139.60" y="51.55">4.0 kGy</text>
<line x1="123.90" y1="57.90" x2="136.40" y2="57.90" stroke="#d4a025" stroke-width="1.3"/>
<text x="139.60" y="60.35">4.8 kGy</text>
<line x1="123.90" y1="66.70" x2="136.40" y2="66.70" stroke="#25cfcf" stroke-width="1.3"/>
<text x="139.60" y="69.15">5.6 kGy</text>
<line x1="312.20" y1="13.70" x2="324.60" y2="13.70" stroke="#5a5a5a" stroke-width="1.3"/>
<text x="326.50" y="16.15">0.8 kGy</text>
<line x1="312.20" y1="22.52" x2="324.60" y2="22.52" stroke="#ff3a3a" stroke-width="1.3"/>
<text x="326.50" y="24.97">1.6 kGy</text>
<line x1="312.20" y1="31.34" x2="324.60" y2="31.34" stroke="#3a6cf0" stroke-width="1.3"/>
<text x="326.50" y="33.79">2.4 kGy</text>
<line x1="312.20" y1="40.16" x2="324.60" y2="40.16" stroke="#35a865" stroke-width="1.3"/>
<text x="326.50" y="42.61">3.2 kGy</text>
<line x1="312.20" y1="48.98" x2="324.60" y2="48.98" stroke="#a866f0" stroke-width="1.3"/>
<text x="326.50" y="51.43">4.0 kGy</text>
<line x1="312.20" y1="57.80" x2="324.60" y2="57.80" stroke="#d4a025" stroke-width="1.3"/>
<text x="326.50" y="60.25">4.8 kGy</text>
<line x1="312.20" y1="66.62" x2="324.60" y2="66.62" stroke="#25cfcf" stroke-width="1.3"/>
<text x="326.50" y="69.07">5.6 kGy</text>
<line x1="497.30" y1="11.70" x2="510.80" y2="11.70" stroke="#5a5a5a" stroke-width="1.3"/>
<text x="512.70" y="14.15">0.8 kGy</text>
<line x1="497.30" y1="20.60" x2="510.80" y2="20.60" stroke="#ff3a3a" stroke-width="1.3"/>
<text x="512.70" y="23.05">1.6 kGy</text>
<line x1="497.30" y1="29.50" x2="510.80" y2="29.50" stroke="#3a6cf0" stroke-width="1.3"/>
<text x="512.70" y="31.95">2.4 kGy</text>
<line x1="497.30" y1="38.40" x2="510.80" y2="38.40" stroke="#35a865" stroke-width="1.3"/>
<text x="512.70" y="40.85">3.2 kGy</text>
<line x1="497.30" y1="47.30" x2="510.80" y2="47.30" stroke="#a866f0" stroke-width="1.3"/>
<text x="512.70" y="49.75">4.0 kGy</text>
<line x1="497.30" y1="56.20" x2="510.80" y2="56.20" stroke="#d4a025" stroke-width="1.3"/>
<text x="512.70" y="58.65">4.8 kGy</text>
<line x1="497.30" y1="65.10" x2="510.80" y2="65.10" stroke="#25cfcf" stroke-width="1.3"/>
<text x="512.70" y="67.55">5.6 kGy</text>
<path d="M41.40,259.65V262.53M40.10,259.65h2.6M40.10,262.53h2.6" stroke="#333333" stroke-width="0.75" fill="none"/>
<path d="M59.30,241.94V246.26M58.00,241.94h2.6M58.00,246.26h2.6" stroke="#333333" stroke-width="0.75" fill="none"/>
<path d="M77.20,223.80V230.13M75.90,223.80h2.6M75.90,230.13h2.6" stroke="#333333" stroke-width="0.75" fill="none"/>
<path d="M95.10,200.32V213.28M93.80,200.32h2.6M93.80,213.28h2.6" stroke="#333333" stroke-width="0.75" fill="none"/>
<path d="M113.00,178.00V194.42M111.70,178.00h2.6M111.70,194.42h2.6" stroke="#333333" stroke-width="0.75" fill="none"/>
<path d="M130.90,169.08V192.12M129.60,169.08h2.6M129.60,192.12h2.6" stroke="#333333" stroke-width="0.75" fill="none"/>
<path d="M148.80,169.08V187.80M147.50,169.08h2.6M147.50,187.80h2.6" stroke="#333333" stroke-width="0.75" fill="none"/>
<path d="M41.40,261.09 59.30,244.10 77.20,226.96 95.10,206.80 113.00,186.21 130.90,180.60 148.80,178.44" stroke="#ff0a0a" stroke-width="1.25" fill="none" stroke-linejoin="round"/>
<circle cx="41.40" cy="261.09" r="1.6" fill="#ff0a0a"/>
<circle cx="59.30" cy="244.10" r="1.6" fill="#ff0a0a"/>
<circle cx="77.20" cy="226.96" r="1.6" fill="#ff0a0a"/>
<circle cx="95.10" cy="206.80" r="1.6" fill="#ff0a0a"/>
<circle cx="113.00" cy="186.21" r="1.6" fill="#ff0a0a"/>
<circle cx="130.90" cy="180.60" r="1.6" fill="#ff0a0a"/>
<circle cx="148.80" cy="178.44" r="1.6" fill="#ff0a0a"/>
<path d="M41.40,260.08V264.40M40.10,260.08h2.6M40.10,264.40h2.6" stroke="#333333" stroke-width="0.75" fill="none"/>
<path d="M50.35,248.42V258.21M49.05,248.42h2.6M49.05,258.21h2.6" stroke="#333333" stroke-width="0.75" fill="none"/>
<path d="M59.30,243.52V249.28M58.00,243.52h2.6M58.00,249.28h2.6" stroke="#333333" stroke-width="0.75" fill="none"/>
<path d="M77.20,236.61V247.56M75.90,236.61h2.6M75.90,247.56h2.6" stroke="#333333" stroke-width="0.75" fill="none"/>
<path d="M86.15,237.19V252.74M84.85,237.19h2.6M84.85,252.74h2.6" stroke="#333333" stroke-width="0.75" fill="none"/>
<path d="M32.45,268.87 41.40,262.24 50.35,253.32 59.30,246.40 68.25,243.38 77.20,242.08 86.15,244.96" stroke="#1414ff" stroke-width="1.25" fill="none" stroke-linejoin="round"/>
<circle cx="32.45" cy="268.87" r="1.6" fill="#1414ff"/>
<circle cx="41.40" cy="262.24" r="1.6" fill="#1414ff"/>
<circle cx="50.35" cy="253.32" r="1.6" fill="#1414ff"/>
<circle cx="59.30" cy="246.40" r="1.6" fill="#1414ff"/>
<circle cx="68.25" cy="243.38" r="1.6" fill="#1414ff"/>
<circle cx="77.20" cy="242.08" r="1.6" fill="#1414ff"/>
<circle cx="86.15" cy="244.96" r="1.6" fill="#1414ff"/>
<path d="M230.45,252.42V260.61M229.15,252.42h2.6M229.15,260.61h2.6" stroke="#333333" stroke-width="0.75" fill="none"/>
<path d="M249.59,234.76V240.90M248.29,234.76h2.6M248.29,240.90h2.6" stroke="#333333" stroke-width="0.75" fill="none"/>
<path d="M268.74,217.60V230.92M267.44,217.60h2.6M267.44,230.92h2.6" stroke="#333333" stroke-width="0.75" fill="none"/>
<path d="M287.89,205.57V221.44M286.59,205.57h2.6M286.59,221.44h2.6" stroke="#333333" stroke-width="0.75" fill="none"/>
<path d="M307.03,187.65V204.04M305.73,187.65h2.6M305.73,204.04h2.6" stroke="#333333" stroke-width="0.75" fill="none"/>
<path d="M326.18,176.13V195.59M324.88,176.13h2.6M324.88,195.59h2.6" stroke="#333333" stroke-width="0.75" fill="none"/>
<path d="M345.33,169.99V192.00M344.03,169.99h2.6M344.03,192.00h2.6" stroke="#333333" stroke-width="0.75" fill="none"/>
<path d="M230.45,256.52 249.59,237.83 268.74,224.26 287.89,213.51 307.03,195.84 326.18,185.86 345.33,181.00" stroke="#ff0a0a" stroke-width="1.25" fill="none" stroke-linejoin="round"/>
<circle cx="230.45" cy="256.52" r="1.6" fill="#ff0a0a"/>
<circle cx="249.59" cy="237.83" r="1.6" fill="#ff0a0a"/>
<circle cx="268.74" cy="224.26" r="1.6" fill="#ff0a0a"/>
<circle cx="287.89" cy="213.51" r="1.6" fill="#ff0a0a"/>
<circle cx="307.03" cy="195.84" r="1.6" fill="#ff0a0a"/>
<circle cx="326.18" cy="185.86" r="1.6" fill="#ff0a0a"/>
<circle cx="345.33" cy="181.00" r="1.6" fill="#ff0a0a"/>
<path d="M230.45,255.49V260.61M229.15,255.49h2.6M229.15,260.61h2.6" stroke="#333333" stroke-width="0.75" fill="none"/>
<path d="M240.02,247.56V255.75M238.72,247.56h2.6M238.72,255.75h2.6" stroke="#333333" stroke-width="0.75" fill="none"/>
<path d="M249.59,241.92V248.07M248.29,241.92h2.6M248.29,248.07h2.6" stroke="#333333" stroke-width="0.75" fill="none"/>
<path d="M259.17,235.27V243.46M257.87,235.27h2.6M257.87,243.46h2.6" stroke="#333333" stroke-width="0.75" fill="none"/>
<path d="M268.74,235.01V245.25M267.44,235.01h2.6M267.44,245.25h2.6" stroke="#333333" stroke-width="0.75" fill="none"/>
<path d="M278.31,227.08V240.90M277.01,227.08h2.6M277.01,240.90h2.6" stroke="#333333" stroke-width="0.75" fill="none"/>
<path d="M220.87,265.73 230.45,258.05 240.02,251.65 249.59,245.00 259.17,239.36 268.74,240.13 278.31,233.99" stroke="#1414ff" stroke-width="1.25" fill="none" stroke-linejoin="round"/>
<circle cx="220.87" cy="265.73" r="1.6" fill="#1414ff"/>
<circle cx="230.45" cy="258.05" r="1.6" fill="#1414ff"/>
<circle cx="240.02" cy="251.65" r="1.6" fill="#1414ff"/>
<circle cx="249.59" cy="245.00" r="1.6" fill="#1414ff"/>
<circle cx="259.17" cy="239.36" r="1.6" fill="#1414ff"/>
<circle cx="268.74" cy="240.13" r="1.6" fill="#1414ff"/>
<circle cx="278.31" cy="233.99" r="1.6" fill="#1414ff"/>
<path d="M418.59,242.32V250.70M417.29,242.32h2.6M417.29,250.70h2.6" stroke="#333333" stroke-width="0.75" fill="none"/>
<path d="M437.69,220.96V235.62M436.39,220.96h2.6M436.39,235.62h2.6" stroke="#333333" stroke-width="0.75" fill="none"/>
<path d="M456.78,190.37V214.25M455.48,190.37h2.6M455.48,214.25h2.6" stroke="#333333" stroke-width="0.75" fill="none"/>
<path d="M475.87,168.59V200.01M474.57,168.59h2.6M474.57,200.01h2.6" stroke="#333333" stroke-width="0.75" fill="none"/>
<path d="M494.97,168.80V190.58M493.67,168.80h2.6M493.67,190.58h2.6" stroke="#333333" stroke-width="0.75" fill="none"/>
<path d="M514.06,168.80V190.58M512.76,168.80h2.6M512.76,190.58h2.6" stroke="#333333" stroke-width="0.75" fill="none"/>
<path d="M533.15,171.11V192.05M531.85,171.11h2.6M531.85,192.05h2.6" stroke="#333333" stroke-width="0.75" fill="none"/>
<path d="M418.59,246.51 437.69,228.29 456.78,202.31 475.87,184.30 494.97,179.69 514.06,179.69 533.15,181.58" stroke="#ff0a0a" stroke-width="1.25" fill="none" stroke-linejoin="round"/>
<circle cx="418.59" cy="246.51" r="1.6" fill="#ff0a0a"/>
<circle cx="437.69" cy="228.29" r="1.6" fill="#ff0a0a"/>
<circle cx="456.78" cy="202.31" r="1.6" fill="#ff0a0a"/>
<circle cx="475.87" cy="184.30" r="1.6" fill="#ff0a0a"/>
<circle cx="494.97" cy="179.69" r="1.6" fill="#ff0a0a"/>
<circle cx="514.06" cy="179.69" r="1.6" fill="#ff0a0a"/>
<circle cx="533.15" cy="181.58" r="1.6" fill="#ff0a0a"/>
<path d="M418.59,248.81V257.19M417.29,248.81h2.6M417.29,257.19h2.6" stroke="#333333" stroke-width="0.75" fill="none"/>
<path d="M428.14,236.04V250.70M426.84,236.04h2.6M426.84,250.70h2.6" stroke="#333333" stroke-width="0.75" fill="none"/>
<path d="M437.69,224.93V237.50M436.39,224.93h2.6M436.39,237.50h2.6" stroke="#333333" stroke-width="0.75" fill="none"/>
<path d="M447.23,214.67V231.43M445.93,214.67h2.6M445.93,231.43h2.6" stroke="#333333" stroke-width="0.75" fill="none"/>
<path d="M466.33,209.02V234.15M465.03,209.02h2.6M465.03,234.15h2.6" stroke="#333333" stroke-width="0.75" fill="none"/>
<path d="M409.05,265.78 418.59,253.00 428.14,243.37 437.69,231.22 447.23,223.05 456.78,222.63 466.33,221.58" stroke="#1414ff" stroke-width="1.25" fill="none" stroke-linejoin="round"/>
<circle cx="409.05" cy="265.78" r="1.6" fill="#1414ff"/>
<circle cx="418.59" cy="253.00" r="1.6" fill="#1414ff"/>
<circle cx="428.14" cy="243.37" r="1.6" fill="#1414ff"/>
<circle cx="437.69" cy="231.22" r="1.6" fill="#1414ff"/>
<circle cx="447.23" cy="223.05" r="1.6" fill="#1414ff"/>
<circle cx="456.78" cy="222.63" r="1.6" fill="#1414ff"/>
<circle cx="466.33" cy="221.58" r="1.6" fill="#1414ff"/>
<line x1="37.70" y1="164.80" x2="51.80" y2="164.80" stroke="#ff0a0a" stroke-width="1.3"/>
<circle cx="44.75" cy="164.80" r="1.6" fill="#ff0a0a"/>
<text x="55.40" y="167.40" style="font-size:7.6px">2 mM</text>
<line x1="37.70" y1="174.50" x2="51.80" y2="174.50" stroke="#1414ff" stroke-width="1.3"/>
<circle cx="44.75" cy="174.50" r="1.6" fill="#1414ff"/>
<text x="55.40" y="177.10" style="font-size:7.6px">1 mM</text>
<line x1="232.50" y1="166.00" x2="246.80" y2="166.00" stroke="#ff0a0a" stroke-width="1.3"/>
<circle cx="239.65" cy="166.00" r="1.6" fill="#ff0a0a"/>
<text x="249.20" y="168.60" style="font-size:7.6px">2 mM</text>
<line x1="232.50" y1="175.30" x2="246.80" y2="175.30" stroke="#1414ff" stroke-width="1.3"/>
<circle cx="239.65" cy="175.30" r="1.6" fill="#1414ff"/>
<text x="249.20" y="177.90" style="font-size:7.6px">1 mM</text>
<line x1="416.50" y1="165.10" x2="430.70" y2="165.10" stroke="#ff0a0a" stroke-width="1.3"/>
<circle cx="423.60" cy="165.10" r="1.6" fill="#ff0a0a"/>
<text x="432.40" y="167.70" style="font-size:7.6px">2 mM</text>
<line x1="416.50" y1="174.50" x2="430.70" y2="174.50" stroke="#1414ff" stroke-width="1.3"/>
<circle cx="423.60" cy="174.50" r="1.6" fill="#1414ff"/>
<text x="432.40" y="177.10" style="font-size:7.6px">1 mM</text>
</svg>
</body></html>
